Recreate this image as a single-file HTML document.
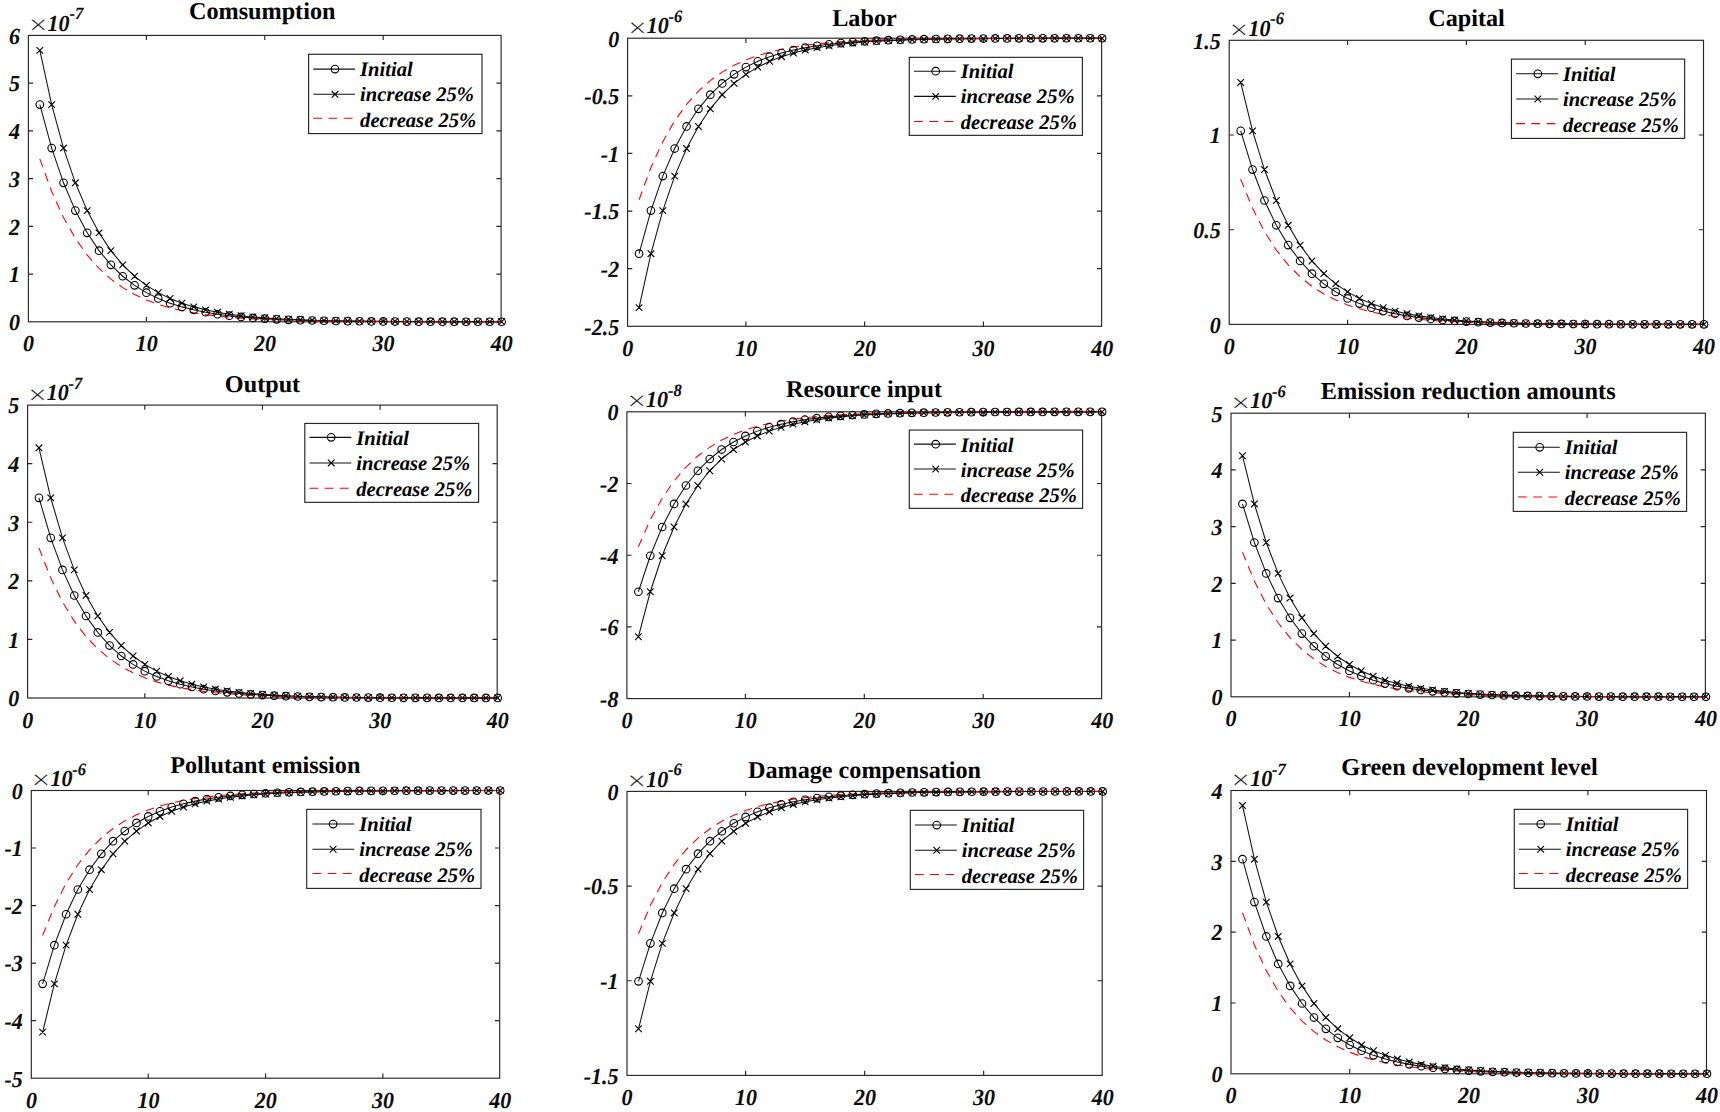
<!DOCTYPE html>
<html><head><meta charset="utf-8"><title>Impulse responses</title>
<style>html,body{margin:0;padding:0;background:#fff}svg{display:block}</style></head><body>
<svg width="1720" height="1112" viewBox="0 0 1720 1112" text-rendering="geometricPrecision">
<rect width="1720" height="1112" fill="#fff"/>
<g>
<rect x="28.4" y="35.4" width="472.7" height="286.4" fill="none" stroke="#262626" stroke-width="1.15"/>
<path d="M146.4 321.8v-4.7M146.4 35.4v4.7M264.8 321.8v-4.7M264.8 35.4v4.7M383.2 321.8v-4.7M383.2 35.4v4.7M28.4 274.07h4.7M501.1 274.07h-4.7M28.4 226.33h4.7M501.1 226.33h-4.7M28.4 178.6h4.7M501.1 178.6h-4.7M28.4 130.87h4.7M501.1 130.87h-4.7M28.4 83.13h4.7M501.1 83.13h-4.7" stroke="#262626" stroke-width="1.15" fill="none"/>
<g font-family='"Liberation Serif", serif' font-weight="bold" font-style="italic" font-size="22" fill="#0d0d0d" stroke="#0d0d0d" stroke-width="0.1">
<text transform="translate(28.5 351.4) scale(1 1.04)" text-anchor="middle">0</text>
<text transform="translate(146.8 351.4) scale(1 1.04)" text-anchor="middle">10</text>
<text transform="translate(265.1 351.4) scale(1 1.04)" text-anchor="middle">20</text>
<text transform="translate(383.4 351.4) scale(1 1.04)" text-anchor="middle">30</text>
<text transform="translate(501.7 351.4) scale(1 1.04)" text-anchor="middle">40</text>
<text transform="translate(19.95 330.1) scale(1 1.04)" text-anchor="end">0</text>
<text transform="translate(19.95 282.37) scale(1 1.04)" text-anchor="end">1</text>
<text transform="translate(19.95 234.63) scale(1 1.04)" text-anchor="end">2</text>
<text transform="translate(19.95 186.9) scale(1 1.04)" text-anchor="end">3</text>
<text transform="translate(19.95 139.17) scale(1 1.04)" text-anchor="end">4</text>
<text transform="translate(19.95 91.43) scale(1 1.04)" text-anchor="end">5</text>
<text transform="translate(19.95 43.7) scale(1 1.04)" text-anchor="end">6</text>
<text transform="translate(28.95 33.8) scale(1.19 1)" font-weight="normal" font-style="normal" font-size="27.5" stroke="#fff" stroke-width="0.3">×</text>
<text transform="translate(47.6 30.6) scale(1 1.04)">10<tspan font-size="16.6" dy="-10.7" dx="-0.2">-7</tspan></text>
</g>
<text x="262.2" y="19.2" text-anchor="middle" font-family='"Liberation Serif", serif' font-weight="bold" font-size="24.2" fill="#000">Comsumption</text>
<polyline points="39.84,104.61 51.68,148.05 63.52,182.8 75.36,210.6 87.2,232.84 99.04,250.63 110.88,264.87 122.72,276.25 134.56,285.36 146.4,292.65 158.24,298.48 170.08,303.14 181.92,306.88 193.76,309.86 205.6,312.25 217.44,314.16 229.28,315.69 241.12,316.91 252.96,317.89 264.8,318.67 276.64,319.3 288.48,319.8 300.32,320.2 312.16,320.52 324,320.77 335.84,320.98 347.68,321.14 359.52,321.27 371.36,321.38 383.2,321.46 395.04,321.53 406.88,321.58 418.72,321.63 430.56,321.66 442.4,321.69 454.24,321.71 466.08,321.73 477.92,321.74 489.76,321.75 501.6,321.76" fill="none" stroke="#111" stroke-width="1.05"/>
<polyline points="39.84,50.32 51.68,104.61 63.52,148.05 75.36,182.8 87.2,210.6 99.04,232.84 110.88,250.63 122.72,264.87 134.56,276.25 146.4,285.36 158.24,292.65 170.08,298.48 181.92,303.14 193.76,306.88 205.6,309.86 217.44,312.25 229.28,314.16 241.12,315.69 252.96,316.91 264.8,317.89 276.64,318.67 288.48,319.3 300.32,319.8 312.16,320.2 324,320.52 335.84,320.77 347.68,320.98 359.52,321.14 371.36,321.27 383.2,321.38 395.04,321.46 406.88,321.53 418.72,321.58 430.56,321.63 442.4,321.66 454.24,321.69 466.08,321.71 477.92,321.73 489.76,321.74 501.6,321.75" fill="none" stroke="#111" stroke-width="1.05"/>
<polyline points="39.84,158.91 51.68,191.49 63.52,217.55 75.36,238.4 87.2,255.08 99.04,268.42 110.88,279.1 122.72,287.64 134.56,294.47 146.4,299.94 158.24,304.31 170.08,307.81 181.92,310.61 193.76,312.85 205.6,314.64 217.44,316.07 229.28,317.22 241.12,318.13 252.96,318.87 264.8,319.45 276.64,319.92 288.48,320.3 300.32,320.6 312.16,320.84 324,321.03 335.84,321.18 347.68,321.31 359.52,321.41 371.36,321.48 383.2,321.55 395.04,321.6 406.88,321.64 418.72,321.67 430.56,321.7 442.4,321.72 454.24,321.73 466.08,321.75 477.92,321.76 489.76,321.77 501.6,321.77" fill="none" stroke="#ff0000" stroke-width="1.1" stroke-dasharray="8.8 6.4"/>
<g fill="none" stroke="#000" stroke-width="1.1">
<circle cx="39.84" cy="104.61" r="3.8"/>
<circle cx="51.68" cy="148.05" r="3.8"/>
<circle cx="63.52" cy="182.8" r="3.8"/>
<circle cx="75.36" cy="210.6" r="3.8"/>
<circle cx="87.2" cy="232.84" r="3.8"/>
<circle cx="99.04" cy="250.63" r="3.8"/>
<circle cx="110.88" cy="264.87" r="3.8"/>
<circle cx="122.72" cy="276.25" r="3.8"/>
<circle cx="134.56" cy="285.36" r="3.8"/>
<circle cx="146.4" cy="292.65" r="3.8"/>
<circle cx="158.24" cy="298.48" r="3.8"/>
<circle cx="170.08" cy="303.14" r="3.8"/>
<circle cx="181.92" cy="306.88" r="3.8"/>
<circle cx="193.76" cy="309.86" r="3.8"/>
<circle cx="205.6" cy="312.25" r="3.8"/>
<circle cx="217.44" cy="314.16" r="3.8"/>
<circle cx="229.28" cy="315.69" r="3.8"/>
<circle cx="241.12" cy="316.91" r="3.8"/>
<circle cx="252.96" cy="317.89" r="3.8"/>
<circle cx="264.8" cy="318.67" r="3.8"/>
<circle cx="276.64" cy="319.3" r="3.8"/>
<circle cx="288.48" cy="319.8" r="3.8"/>
<circle cx="300.32" cy="320.2" r="3.8"/>
<circle cx="312.16" cy="320.52" r="3.8"/>
<circle cx="324" cy="320.77" r="3.8"/>
<circle cx="335.84" cy="320.98" r="3.8"/>
<circle cx="347.68" cy="321.14" r="3.8"/>
<circle cx="359.52" cy="321.27" r="3.8"/>
<circle cx="371.36" cy="321.38" r="3.8"/>
<circle cx="383.2" cy="321.46" r="3.8"/>
<circle cx="395.04" cy="321.53" r="3.8"/>
<circle cx="406.88" cy="321.58" r="3.8"/>
<circle cx="418.72" cy="321.63" r="3.8"/>
<circle cx="430.56" cy="321.66" r="3.8"/>
<circle cx="442.4" cy="321.69" r="3.8"/>
<circle cx="454.24" cy="321.71" r="3.8"/>
<circle cx="466.08" cy="321.73" r="3.8"/>
<circle cx="477.92" cy="321.74" r="3.8"/>
<circle cx="489.76" cy="321.75" r="3.8"/>
<circle cx="501.6" cy="321.76" r="3.8"/>
<path d="M36.54 47.02l6.6 6.6M36.54 53.62l6.6 -6.6M48.38 101.31l6.6 6.6M48.38 107.91l6.6 -6.6M60.22 144.75l6.6 6.6M60.22 151.35l6.6 -6.6M72.06 179.5l6.6 6.6M72.06 186.1l6.6 -6.6M83.9 207.3l6.6 6.6M83.9 213.9l6.6 -6.6M95.74 229.54l6.6 6.6M95.74 236.14l6.6 -6.6M107.58 247.33l6.6 6.6M107.58 253.93l6.6 -6.6M119.42 261.57l6.6 6.6M119.42 268.17l6.6 -6.6M131.26 272.95l6.6 6.6M131.26 279.55l6.6 -6.6M143.1 282.06l6.6 6.6M143.1 288.66l6.6 -6.6M154.94 289.35l6.6 6.6M154.94 295.95l6.6 -6.6M166.78 295.18l6.6 6.6M166.78 301.78l6.6 -6.6M178.62 299.84l6.6 6.6M178.62 306.44l6.6 -6.6M190.46 303.58l6.6 6.6M190.46 310.18l6.6 -6.6M202.3 306.56l6.6 6.6M202.3 313.16l6.6 -6.6M214.14 308.95l6.6 6.6M214.14 315.55l6.6 -6.6M225.98 310.86l6.6 6.6M225.98 317.46l6.6 -6.6M237.82 312.39l6.6 6.6M237.82 318.99l6.6 -6.6M249.66 313.61l6.6 6.6M249.66 320.21l6.6 -6.6M261.5 314.59l6.6 6.6M261.5 321.19l6.6 -6.6M273.34 315.37l6.6 6.6M273.34 321.97l6.6 -6.6M285.18 316l6.6 6.6M285.18 322.6l6.6 -6.6M297.02 316.5l6.6 6.6M297.02 323.1l6.6 -6.6M308.86 316.9l6.6 6.6M308.86 323.5l6.6 -6.6M320.7 317.22l6.6 6.6M320.7 323.82l6.6 -6.6M332.54 317.47l6.6 6.6M332.54 324.07l6.6 -6.6M344.38 317.68l6.6 6.6M344.38 324.28l6.6 -6.6M356.22 317.84l6.6 6.6M356.22 324.44l6.6 -6.6M368.06 317.97l6.6 6.6M368.06 324.57l6.6 -6.6M379.9 318.08l6.6 6.6M379.9 324.68l6.6 -6.6M391.74 318.16l6.6 6.6M391.74 324.76l6.6 -6.6M403.58 318.23l6.6 6.6M403.58 324.83l6.6 -6.6M415.42 318.28l6.6 6.6M415.42 324.88l6.6 -6.6M427.26 318.33l6.6 6.6M427.26 324.93l6.6 -6.6M439.1 318.36l6.6 6.6M439.1 324.96l6.6 -6.6M450.94 318.39l6.6 6.6M450.94 324.99l6.6 -6.6M462.78 318.41l6.6 6.6M462.78 325.01l6.6 -6.6M474.62 318.43l6.6 6.6M474.62 325.03l6.6 -6.6M486.46 318.44l6.6 6.6M486.46 325.04l6.6 -6.6M498.3 318.45l6.6 6.6M498.3 325.05l6.6 -6.6"/>
</g>
<rect x="308.6" y="54.3" width="173.4" height="79.3" fill="#fff" stroke="#262626" stroke-width="1.15"/>
<path d="M313.3 69.1H355.1M313.3 94.3H355.1" stroke="#111" stroke-width="1.05"/>
<path d="M313.3 118.3H355.1" stroke="#ff0000" stroke-width="1.1" stroke-dasharray="8.8 6.4"/>
<circle cx="335" cy="69.1" r="3.8" fill="none" stroke="#000" stroke-width="1.1"/>
<path d="M331.7 91l6.6 6.6M331.7 97.6l6.6 -6.6" fill="none" stroke="#000" stroke-width="1.1"/>
<g font-family='"Liberation Serif", serif' font-weight="bold" font-style="italic" font-size="20.6" fill="#000">
<text x="360.1" y="76">Initial</text>
<text x="360.1" y="101.4">increase 25%</text>
<text x="360.1" y="126.7">decrease 25%</text>
</g>
</g>
<g>
<rect x="627.6" y="38.2" width="474" height="288.1" fill="none" stroke="#262626" stroke-width="1.15"/>
<path d="M745.92 326.3v-4.7M745.92 38.2v4.7M864.65 326.3v-4.7M864.65 38.2v4.7M983.38 326.3v-4.7M983.38 38.2v4.7M627.6 95.82h4.7M1101.6 95.82h-4.7M627.6 153.44h4.7M1101.6 153.44h-4.7M627.6 211.06h4.7M1101.6 211.06h-4.7M627.6 268.68h4.7M1101.6 268.68h-4.7" stroke="#262626" stroke-width="1.15" fill="none"/>
<g font-family='"Liberation Serif", serif' font-weight="bold" font-style="italic" font-size="22" fill="#0d0d0d" stroke="#0d0d0d" stroke-width="0.1">
<text transform="translate(627.7 355.9) scale(1 1.04)" text-anchor="middle">0</text>
<text transform="translate(746.33 355.9) scale(1 1.04)" text-anchor="middle">10</text>
<text transform="translate(864.95 355.9) scale(1 1.04)" text-anchor="middle">20</text>
<text transform="translate(983.57 355.9) scale(1 1.04)" text-anchor="middle">30</text>
<text transform="translate(1102.2 355.9) scale(1 1.04)" text-anchor="middle">40</text>
<text transform="translate(619.15 46.5) scale(1 1.04)" text-anchor="end">0</text>
<text transform="translate(619.15 104.12) scale(1 1.04)" text-anchor="end">-0.5</text>
<text transform="translate(619.15 161.74) scale(1 1.04)" text-anchor="end">-1</text>
<text transform="translate(619.15 219.36) scale(1 1.04)" text-anchor="end">-1.5</text>
<text transform="translate(619.15 276.98) scale(1 1.04)" text-anchor="end">-2</text>
<text transform="translate(619.15 334.6) scale(1 1.04)" text-anchor="end">-2.5</text>
<text transform="translate(628.15 36.6) scale(1.19 1)" font-weight="normal" font-style="normal" font-size="27.5" stroke="#fff" stroke-width="0.3">×</text>
<text transform="translate(646.8 33.4) scale(1 1.04)">10<tspan font-size="16.6" dy="-10.7" dx="-0.2">-6</tspan></text>
</g>
<text x="864.5" y="25.5" text-anchor="middle" font-family='"Liberation Serif", serif' font-weight="bold" font-size="24.2" fill="#000">Labor</text>
<polyline points="639.07,253.7 650.95,210.6 662.82,176.12 674.69,148.54 686.56,126.47 698.44,108.81 710.31,94.69 722.18,83.39 734.05,74.35 745.92,67.12 757.8,61.34 769.67,56.71 781.54,53.01 793.41,50.05 805.29,47.68 817.16,45.78 829.03,44.27 840.9,43.05 852.78,42.08 864.65,41.31 876.52,40.68 888.39,40.19 900.27,39.79 912.14,39.47 924.01,39.22 935.88,39.01 947.76,38.85 959.63,38.72 971.5,38.62 983.38,38.53 995.25,38.47 1007.12,38.41 1018.99,38.37 1030.86,38.34 1042.74,38.31 1054.61,38.29 1066.48,38.27 1078.36,38.26 1090.23,38.24 1102.1,38.24" fill="none" stroke="#111" stroke-width="1.05"/>
<polyline points="639.07,307.57 650.95,253.7 662.82,210.6 674.69,176.12 686.56,148.54 698.44,126.47 710.31,108.81 722.18,94.69 734.05,83.39 745.92,74.35 757.8,67.12 769.67,61.34 781.54,56.71 793.41,53.01 805.29,50.05 817.16,47.68 829.03,45.78 840.9,44.27 852.78,43.05 864.65,42.08 876.52,41.31 888.39,40.68 900.27,40.19 912.14,39.79 924.01,39.47 935.88,39.22 947.76,39.01 959.63,38.85 971.5,38.72 983.38,38.62 995.25,38.53 1007.12,38.47 1018.99,38.41 1030.86,38.37 1042.74,38.34 1054.61,38.31 1066.48,38.29 1078.36,38.27 1090.23,38.26 1102.1,38.24" fill="none" stroke="#111" stroke-width="1.05"/>
<polyline points="639.07,199.82 650.95,167.5 662.82,141.64 674.69,120.95 686.56,104.4 698.44,91.16 710.31,80.57 722.18,72.1 734.05,65.32 745.92,59.89 757.8,55.55 769.67,52.08 781.54,49.31 793.41,47.09 805.29,45.31 817.16,43.89 829.03,42.75 840.9,41.84 852.78,41.11 864.65,40.53 876.52,40.06 888.39,39.69 900.27,39.39 912.14,39.15 924.01,38.96 935.88,38.81 947.76,38.69 959.63,38.59 971.5,38.51 983.38,38.45 995.25,38.4 1007.12,38.36 1018.99,38.33 1030.86,38.3 1042.74,38.28 1054.61,38.27 1066.48,38.25 1078.36,38.24 1090.23,38.23 1102.1,38.23" fill="none" stroke="#ff0000" stroke-width="1.1" stroke-dasharray="8.8 6.4"/>
<g fill="none" stroke="#000" stroke-width="1.1">
<circle cx="639.07" cy="253.7" r="3.8"/>
<circle cx="650.95" cy="210.6" r="3.8"/>
<circle cx="662.82" cy="176.12" r="3.8"/>
<circle cx="674.69" cy="148.54" r="3.8"/>
<circle cx="686.56" cy="126.47" r="3.8"/>
<circle cx="698.44" cy="108.81" r="3.8"/>
<circle cx="710.31" cy="94.69" r="3.8"/>
<circle cx="722.18" cy="83.39" r="3.8"/>
<circle cx="734.05" cy="74.35" r="3.8"/>
<circle cx="745.92" cy="67.12" r="3.8"/>
<circle cx="757.8" cy="61.34" r="3.8"/>
<circle cx="769.67" cy="56.71" r="3.8"/>
<circle cx="781.54" cy="53.01" r="3.8"/>
<circle cx="793.41" cy="50.05" r="3.8"/>
<circle cx="805.29" cy="47.68" r="3.8"/>
<circle cx="817.16" cy="45.78" r="3.8"/>
<circle cx="829.03" cy="44.27" r="3.8"/>
<circle cx="840.9" cy="43.05" r="3.8"/>
<circle cx="852.78" cy="42.08" r="3.8"/>
<circle cx="864.65" cy="41.31" r="3.8"/>
<circle cx="876.52" cy="40.68" r="3.8"/>
<circle cx="888.39" cy="40.19" r="3.8"/>
<circle cx="900.27" cy="39.79" r="3.8"/>
<circle cx="912.14" cy="39.47" r="3.8"/>
<circle cx="924.01" cy="39.22" r="3.8"/>
<circle cx="935.88" cy="39.01" r="3.8"/>
<circle cx="947.76" cy="38.85" r="3.8"/>
<circle cx="959.63" cy="38.72" r="3.8"/>
<circle cx="971.5" cy="38.62" r="3.8"/>
<circle cx="983.38" cy="38.53" r="3.8"/>
<circle cx="995.25" cy="38.47" r="3.8"/>
<circle cx="1007.12" cy="38.41" r="3.8"/>
<circle cx="1018.99" cy="38.37" r="3.8"/>
<circle cx="1030.86" cy="38.34" r="3.8"/>
<circle cx="1042.74" cy="38.31" r="3.8"/>
<circle cx="1054.61" cy="38.29" r="3.8"/>
<circle cx="1066.48" cy="38.27" r="3.8"/>
<circle cx="1078.36" cy="38.26" r="3.8"/>
<circle cx="1090.23" cy="38.24" r="3.8"/>
<circle cx="1102.1" cy="38.24" r="3.8"/>
<path d="M635.77 304.27l6.6 6.6M635.77 310.87l6.6 -6.6M647.65 250.4l6.6 6.6M647.65 257l6.6 -6.6M659.52 207.3l6.6 6.6M659.52 213.9l6.6 -6.6M671.39 172.82l6.6 6.6M671.39 179.42l6.6 -6.6M683.26 145.24l6.6 6.6M683.26 151.84l6.6 -6.6M695.14 123.17l6.6 6.6M695.14 129.77l6.6 -6.6M707.01 105.51l6.6 6.6M707.01 112.11l6.6 -6.6M718.88 91.39l6.6 6.6M718.88 97.99l6.6 -6.6M730.75 80.09l6.6 6.6M730.75 86.69l6.6 -6.6M742.62 71.05l6.6 6.6M742.62 77.65l6.6 -6.6M754.5 63.82l6.6 6.6M754.5 70.42l6.6 -6.6M766.37 58.04l6.6 6.6M766.37 64.64l6.6 -6.6M778.24 53.41l6.6 6.6M778.24 60.01l6.6 -6.6M790.12 49.71l6.6 6.6M790.12 56.31l6.6 -6.6M801.99 46.75l6.6 6.6M801.99 53.35l6.6 -6.6M813.86 44.38l6.6 6.6M813.86 50.98l6.6 -6.6M825.73 42.48l6.6 6.6M825.73 49.08l6.6 -6.6M837.61 40.97l6.6 6.6M837.61 47.57l6.6 -6.6M849.48 39.75l6.6 6.6M849.48 46.35l6.6 -6.6M861.35 38.78l6.6 6.6M861.35 45.38l6.6 -6.6M873.22 38.01l6.6 6.6M873.22 44.61l6.6 -6.6M885.1 37.38l6.6 6.6M885.1 43.98l6.6 -6.6M896.97 36.89l6.6 6.6M896.97 43.49l6.6 -6.6M908.84 36.49l6.6 6.6M908.84 43.09l6.6 -6.6M920.71 36.17l6.6 6.6M920.71 42.77l6.6 -6.6M932.59 35.92l6.6 6.6M932.59 42.52l6.6 -6.6M944.46 35.71l6.6 6.6M944.46 42.31l6.6 -6.6M956.33 35.55l6.6 6.6M956.33 42.15l6.6 -6.6M968.2 35.42l6.6 6.6M968.2 42.02l6.6 -6.6M980.08 35.32l6.6 6.6M980.08 41.92l6.6 -6.6M991.95 35.23l6.6 6.6M991.95 41.83l6.6 -6.6M1003.82 35.17l6.6 6.6M1003.82 41.77l6.6 -6.6M1015.69 35.11l6.6 6.6M1015.69 41.71l6.6 -6.6M1027.56 35.07l6.6 6.6M1027.56 41.67l6.6 -6.6M1039.44 35.04l6.6 6.6M1039.44 41.64l6.6 -6.6M1051.31 35.01l6.6 6.6M1051.31 41.61l6.6 -6.6M1063.18 34.99l6.6 6.6M1063.18 41.59l6.6 -6.6M1075.06 34.97l6.6 6.6M1075.06 41.57l6.6 -6.6M1086.93 34.96l6.6 6.6M1086.93 41.56l6.6 -6.6M1098.8 34.94l6.6 6.6M1098.8 41.54l6.6 -6.6"/>
</g>
<rect x="909.3" y="57.35" width="173.1" height="78" fill="#fff" stroke="#262626" stroke-width="1.15"/>
<path d="M914 71.15H955.8M914 96.35H955.8" stroke="#111" stroke-width="1.05"/>
<path d="M914 121.55H955.8" stroke="#ff0000" stroke-width="1.1" stroke-dasharray="8.8 6.4"/>
<circle cx="935.7" cy="71.15" r="3.8" fill="none" stroke="#000" stroke-width="1.1"/>
<path d="M932.4 93.05l6.6 6.6M932.4 99.65l6.6 -6.6" fill="none" stroke="#000" stroke-width="1.1"/>
<g font-family='"Liberation Serif", serif' font-weight="bold" font-style="italic" font-size="20.6" fill="#000">
<text x="960.8" y="78.45">Initial</text>
<text x="960.8" y="103.35">increase 25%</text>
<text x="960.8" y="128.95">decrease 25%</text>
</g>
</g>
<g>
<rect x="1229.2" y="40.3" width="474.3" height="284.1" fill="none" stroke="#262626" stroke-width="1.15"/>
<path d="M1347.6 324.4v-4.7M1347.6 40.3v4.7M1466.4 324.4v-4.7M1466.4 40.3v4.7M1585.2 324.4v-4.7M1585.2 40.3v4.7M1229.2 229.7h4.7M1703.5 229.7h-4.7M1229.2 135h4.7M1703.5 135h-4.7" stroke="#262626" stroke-width="1.15" fill="none"/>
<g font-family='"Liberation Serif", serif' font-weight="bold" font-style="italic" font-size="22" fill="#0d0d0d" stroke="#0d0d0d" stroke-width="0.1">
<text transform="translate(1229.3 354) scale(1 1.04)" text-anchor="middle">0</text>
<text transform="translate(1348 354) scale(1 1.04)" text-anchor="middle">10</text>
<text transform="translate(1466.7 354) scale(1 1.04)" text-anchor="middle">20</text>
<text transform="translate(1585.4 354) scale(1 1.04)" text-anchor="middle">30</text>
<text transform="translate(1704.1 354) scale(1 1.04)" text-anchor="middle">40</text>
<text transform="translate(1220.75 332.7) scale(1 1.04)" text-anchor="end">0</text>
<text transform="translate(1220.75 238) scale(1 1.04)" text-anchor="end">0.5</text>
<text transform="translate(1220.75 143.3) scale(1 1.04)" text-anchor="end">1</text>
<text transform="translate(1220.75 48.6) scale(1 1.04)" text-anchor="end">1.5</text>
<text transform="translate(1229.75 38.7) scale(1.19 1)" font-weight="normal" font-style="normal" font-size="27.5" stroke="#fff" stroke-width="0.3">×</text>
<text transform="translate(1248.4 35.5) scale(1 1.04)">10<tspan font-size="16.6" dy="-10.7" dx="-0.2">-6</tspan></text>
</g>
<text x="1466.5" y="25.5" text-anchor="middle" font-family='"Liberation Serif", serif' font-weight="bold" font-size="24.2" fill="#000">Capital</text>
<polyline points="1240.68,130.83 1252.56,169.55 1264.44,200.52 1276.32,225.29 1288.2,245.12 1300.08,260.97 1311.96,273.66 1323.84,283.81 1335.72,291.92 1347.6,298.42 1359.48,303.62 1371.36,307.77 1383.24,311.1 1395.12,313.76 1407,315.89 1418.88,317.59 1430.76,318.95 1442.64,320.04 1454.52,320.91 1466.4,321.61 1478.28,322.17 1490.16,322.61 1502.04,322.97 1513.92,323.26 1525.8,323.49 1537.68,323.67 1549.56,323.81 1561.44,323.93 1573.32,324.03 1585.2,324.1 1597.08,324.16 1608.96,324.21 1620.84,324.25 1632.72,324.28 1644.6,324.3 1656.48,324.32 1668.36,324.34 1680.24,324.35 1692.12,324.36 1704,324.37" fill="none" stroke="#111" stroke-width="1.05"/>
<polyline points="1240.68,82.44 1252.56,130.83 1264.44,169.55 1276.32,200.52 1288.2,225.29 1300.08,245.12 1311.96,260.97 1323.84,273.66 1335.72,283.81 1347.6,291.92 1359.48,298.42 1371.36,303.62 1383.24,307.77 1395.12,311.1 1407,313.76 1418.88,315.89 1430.76,317.59 1442.64,318.95 1454.52,320.04 1466.4,320.91 1478.28,321.61 1490.16,322.17 1502.04,322.61 1513.92,322.97 1525.8,323.26 1537.68,323.49 1549.56,323.67 1561.44,323.81 1573.32,323.93 1585.2,324.03 1597.08,324.1 1608.96,324.16 1620.84,324.21 1632.72,324.25 1644.6,324.28 1656.48,324.3 1668.36,324.32 1680.24,324.34 1692.12,324.35 1704,324.36" fill="none" stroke="#111" stroke-width="1.05"/>
<polyline points="1240.68,179.22 1252.56,208.26 1264.44,231.49 1276.32,250.07 1288.2,264.94 1300.08,276.83 1311.96,286.34 1323.84,293.95 1335.72,300.04 1347.6,304.91 1359.48,308.81 1371.36,311.93 1383.24,314.42 1395.12,316.42 1407,318.02 1418.88,319.29 1430.76,320.31 1442.64,321.13 1454.52,321.78 1466.4,322.31 1478.28,322.73 1490.16,323.06 1502.04,323.33 1513.92,323.54 1525.8,323.71 1537.68,323.85 1549.56,323.96 1561.44,324.05 1573.32,324.12 1585.2,324.18 1597.08,324.22 1608.96,324.26 1620.84,324.28 1632.72,324.31 1644.6,324.33 1656.48,324.34 1668.36,324.35 1680.24,324.36 1692.12,324.37 1704,324.38" fill="none" stroke="#ff0000" stroke-width="1.1" stroke-dasharray="8.8 6.4"/>
<g fill="none" stroke="#000" stroke-width="1.1">
<circle cx="1240.68" cy="130.83" r="3.8"/>
<circle cx="1252.56" cy="169.55" r="3.8"/>
<circle cx="1264.44" cy="200.52" r="3.8"/>
<circle cx="1276.32" cy="225.29" r="3.8"/>
<circle cx="1288.2" cy="245.12" r="3.8"/>
<circle cx="1300.08" cy="260.97" r="3.8"/>
<circle cx="1311.96" cy="273.66" r="3.8"/>
<circle cx="1323.84" cy="283.81" r="3.8"/>
<circle cx="1335.72" cy="291.92" r="3.8"/>
<circle cx="1347.6" cy="298.42" r="3.8"/>
<circle cx="1359.48" cy="303.62" r="3.8"/>
<circle cx="1371.36" cy="307.77" r="3.8"/>
<circle cx="1383.24" cy="311.1" r="3.8"/>
<circle cx="1395.12" cy="313.76" r="3.8"/>
<circle cx="1407" cy="315.89" r="3.8"/>
<circle cx="1418.88" cy="317.59" r="3.8"/>
<circle cx="1430.76" cy="318.95" r="3.8"/>
<circle cx="1442.64" cy="320.04" r="3.8"/>
<circle cx="1454.52" cy="320.91" r="3.8"/>
<circle cx="1466.4" cy="321.61" r="3.8"/>
<circle cx="1478.28" cy="322.17" r="3.8"/>
<circle cx="1490.16" cy="322.61" r="3.8"/>
<circle cx="1502.04" cy="322.97" r="3.8"/>
<circle cx="1513.92" cy="323.26" r="3.8"/>
<circle cx="1525.8" cy="323.49" r="3.8"/>
<circle cx="1537.68" cy="323.67" r="3.8"/>
<circle cx="1549.56" cy="323.81" r="3.8"/>
<circle cx="1561.44" cy="323.93" r="3.8"/>
<circle cx="1573.32" cy="324.03" r="3.8"/>
<circle cx="1585.2" cy="324.1" r="3.8"/>
<circle cx="1597.08" cy="324.16" r="3.8"/>
<circle cx="1608.96" cy="324.21" r="3.8"/>
<circle cx="1620.84" cy="324.25" r="3.8"/>
<circle cx="1632.72" cy="324.28" r="3.8"/>
<circle cx="1644.6" cy="324.3" r="3.8"/>
<circle cx="1656.48" cy="324.32" r="3.8"/>
<circle cx="1668.36" cy="324.34" r="3.8"/>
<circle cx="1680.24" cy="324.35" r="3.8"/>
<circle cx="1692.12" cy="324.36" r="3.8"/>
<circle cx="1704" cy="324.37" r="3.8"/>
<path d="M1237.38 79.14l6.6 6.6M1237.38 85.74l6.6 -6.6M1249.26 127.53l6.6 6.6M1249.26 134.13l6.6 -6.6M1261.14 166.25l6.6 6.6M1261.14 172.85l6.6 -6.6M1273.02 197.22l6.6 6.6M1273.02 203.82l6.6 -6.6M1284.9 221.99l6.6 6.6M1284.9 228.59l6.6 -6.6M1296.78 241.82l6.6 6.6M1296.78 248.42l6.6 -6.6M1308.66 257.67l6.6 6.6M1308.66 264.27l6.6 -6.6M1320.54 270.36l6.6 6.6M1320.54 276.96l6.6 -6.6M1332.42 280.51l6.6 6.6M1332.42 287.11l6.6 -6.6M1344.3 288.62l6.6 6.6M1344.3 295.22l6.6 -6.6M1356.18 295.12l6.6 6.6M1356.18 301.72l6.6 -6.6M1368.06 300.32l6.6 6.6M1368.06 306.92l6.6 -6.6M1379.94 304.47l6.6 6.6M1379.94 311.07l6.6 -6.6M1391.82 307.8l6.6 6.6M1391.82 314.4l6.6 -6.6M1403.7 310.46l6.6 6.6M1403.7 317.06l6.6 -6.6M1415.58 312.59l6.6 6.6M1415.58 319.19l6.6 -6.6M1427.46 314.29l6.6 6.6M1427.46 320.89l6.6 -6.6M1439.34 315.65l6.6 6.6M1439.34 322.25l6.6 -6.6M1451.22 316.74l6.6 6.6M1451.22 323.34l6.6 -6.6M1463.1 317.61l6.6 6.6M1463.1 324.21l6.6 -6.6M1474.98 318.31l6.6 6.6M1474.98 324.91l6.6 -6.6M1486.86 318.87l6.6 6.6M1486.86 325.47l6.6 -6.6M1498.74 319.31l6.6 6.6M1498.74 325.91l6.6 -6.6M1510.62 319.67l6.6 6.6M1510.62 326.27l6.6 -6.6M1522.5 319.96l6.6 6.6M1522.5 326.56l6.6 -6.6M1534.38 320.19l6.6 6.6M1534.38 326.79l6.6 -6.6M1546.26 320.37l6.6 6.6M1546.26 326.97l6.6 -6.6M1558.14 320.51l6.6 6.6M1558.14 327.11l6.6 -6.6M1570.02 320.63l6.6 6.6M1570.02 327.23l6.6 -6.6M1581.9 320.73l6.6 6.6M1581.9 327.33l6.6 -6.6M1593.78 320.8l6.6 6.6M1593.78 327.4l6.6 -6.6M1605.66 320.86l6.6 6.6M1605.66 327.46l6.6 -6.6M1617.54 320.91l6.6 6.6M1617.54 327.51l6.6 -6.6M1629.42 320.95l6.6 6.6M1629.42 327.55l6.6 -6.6M1641.3 320.98l6.6 6.6M1641.3 327.58l6.6 -6.6M1653.18 321l6.6 6.6M1653.18 327.6l6.6 -6.6M1665.06 321.02l6.6 6.6M1665.06 327.62l6.6 -6.6M1676.94 321.04l6.6 6.6M1676.94 327.64l6.6 -6.6M1688.82 321.05l6.6 6.6M1688.82 327.65l6.6 -6.6M1700.7 321.06l6.6 6.6M1700.7 327.66l6.6 -6.6"/>
</g>
<rect x="1511.45" y="59.1" width="173.2" height="79.3" fill="#fff" stroke="#262626" stroke-width="1.15"/>
<path d="M1516.15 73.8H1557.95M1516.15 99H1557.95" stroke="#111" stroke-width="1.05"/>
<path d="M1516.15 123.6H1557.95" stroke="#ff0000" stroke-width="1.1" stroke-dasharray="8.8 6.4"/>
<circle cx="1537.85" cy="73.8" r="3.8" fill="none" stroke="#000" stroke-width="1.1"/>
<path d="M1534.55 95.7l6.6 6.6M1534.55 102.3l6.6 -6.6" fill="none" stroke="#000" stroke-width="1.1"/>
<g font-family='"Liberation Serif", serif' font-weight="bold" font-style="italic" font-size="20.6" fill="#000">
<text x="1562.95" y="80.7">Initial</text>
<text x="1562.95" y="106">increase 25%</text>
<text x="1562.95" y="131.6">decrease 25%</text>
</g>
</g>
<g>
<rect x="27.6" y="405.1" width="469.6" height="292.9" fill="none" stroke="#262626" stroke-width="1.15"/>
<path d="M144.82 698v-4.7M144.82 405.1v4.7M262.45 698v-4.7M262.45 405.1v4.7M380.07 698v-4.7M380.07 405.1v4.7M27.6 639.42h4.7M497.2 639.42h-4.7M27.6 580.84h4.7M497.2 580.84h-4.7M27.6 522.26h4.7M497.2 522.26h-4.7M27.6 463.68h4.7M497.2 463.68h-4.7" stroke="#262626" stroke-width="1.15" fill="none"/>
<g font-family='"Liberation Serif", serif' font-weight="bold" font-style="italic" font-size="22" fill="#0d0d0d" stroke="#0d0d0d" stroke-width="0.1">
<text transform="translate(27.7 727.6) scale(1 1.04)" text-anchor="middle">0</text>
<text transform="translate(145.23 727.6) scale(1 1.04)" text-anchor="middle">10</text>
<text transform="translate(262.75 727.6) scale(1 1.04)" text-anchor="middle">20</text>
<text transform="translate(380.27 727.6) scale(1 1.04)" text-anchor="middle">30</text>
<text transform="translate(497.8 727.6) scale(1 1.04)" text-anchor="middle">40</text>
<text transform="translate(19.15 706.3) scale(1 1.04)" text-anchor="end">0</text>
<text transform="translate(19.15 647.72) scale(1 1.04)" text-anchor="end">1</text>
<text transform="translate(19.15 589.14) scale(1 1.04)" text-anchor="end">2</text>
<text transform="translate(19.15 530.56) scale(1 1.04)" text-anchor="end">3</text>
<text transform="translate(19.15 471.98) scale(1 1.04)" text-anchor="end">4</text>
<text transform="translate(19.15 413.4) scale(1 1.04)" text-anchor="end">5</text>
<text transform="translate(28.15 403.5) scale(1.19 1)" font-weight="normal" font-style="normal" font-size="27.5" stroke="#fff" stroke-width="0.3">×</text>
<text transform="translate(46.8 400.3) scale(1 1.04)">10<tspan font-size="16.6" dy="-10.7" dx="-0.2">-7</tspan></text>
</g>
<text x="262.5" y="391.5" text-anchor="middle" font-family='"Liberation Serif", serif' font-weight="bold" font-size="24.2" fill="#000">Output</text>
<polyline points="38.96,497.83 50.73,537.87 62.49,569.89 74.25,595.51 86.01,616.01 97.78,632.41 109.54,645.53 121.3,656.02 133.06,664.42 144.82,671.13 156.59,676.51 168.35,680.81 180.11,684.24 191.88,687 203.64,689.2 215.4,690.96 227.16,692.37 238.93,693.49 250.69,694.39 262.45,695.12 274.21,695.69 285.97,696.15 297.74,696.52 309.5,696.82 321.26,697.05 333.02,697.24 344.79,697.4 356.55,697.52 368.31,697.61 380.07,697.69 391.84,697.75 403.6,697.8 415.36,697.84 427.12,697.87 438.89,697.9 450.65,697.92 462.41,697.94 474.18,697.95 485.94,697.96 497.7,697.97" fill="none" stroke="#111" stroke-width="1.05"/>
<polyline points="38.96,447.79 50.73,497.83 62.49,537.87 74.25,569.89 86.01,595.51 97.78,616.01 109.54,632.41 121.3,645.53 133.06,656.02 144.82,664.42 156.59,671.13 168.35,676.51 180.11,680.81 191.88,684.24 203.64,687 215.4,689.2 227.16,690.96 238.93,692.37 250.69,693.49 262.45,694.39 274.21,695.12 285.97,695.69 297.74,696.15 309.5,696.52 321.26,696.82 333.02,697.05 344.79,697.24 356.55,697.4 368.31,697.52 380.07,697.61 391.84,697.69 403.6,697.75 415.36,697.8 427.12,697.84 438.89,697.87 450.65,697.9 462.41,697.92 474.18,697.94 485.94,697.95 497.7,697.96" fill="none" stroke="#111" stroke-width="1.05"/>
<polyline points="38.96,547.87 50.73,577.9 62.49,601.92 74.25,621.14 86.01,636.51 97.78,648.81 109.54,658.65 121.3,666.52 133.06,672.81 144.82,677.85 156.59,681.88 168.35,685.1 180.11,687.68 191.88,689.75 203.64,691.4 215.4,692.72 227.16,693.77 238.93,694.62 250.69,695.3 262.45,695.84 274.21,696.27 285.97,696.62 297.74,696.89 309.5,697.11 321.26,697.29 333.02,697.43 344.79,697.55 356.55,697.64 368.31,697.71 380.07,697.77 391.84,697.81 403.6,697.85 415.36,697.88 427.12,697.9 438.89,697.92 450.65,697.94 462.41,697.95 474.18,697.96 485.94,697.97 497.7,697.98" fill="none" stroke="#ff0000" stroke-width="1.1" stroke-dasharray="8.8 6.4"/>
<g fill="none" stroke="#000" stroke-width="1.1">
<circle cx="38.96" cy="497.83" r="3.8"/>
<circle cx="50.73" cy="537.87" r="3.8"/>
<circle cx="62.49" cy="569.89" r="3.8"/>
<circle cx="74.25" cy="595.51" r="3.8"/>
<circle cx="86.01" cy="616.01" r="3.8"/>
<circle cx="97.78" cy="632.41" r="3.8"/>
<circle cx="109.54" cy="645.53" r="3.8"/>
<circle cx="121.3" cy="656.02" r="3.8"/>
<circle cx="133.06" cy="664.42" r="3.8"/>
<circle cx="144.82" cy="671.13" r="3.8"/>
<circle cx="156.59" cy="676.51" r="3.8"/>
<circle cx="168.35" cy="680.81" r="3.8"/>
<circle cx="180.11" cy="684.24" r="3.8"/>
<circle cx="191.88" cy="687" r="3.8"/>
<circle cx="203.64" cy="689.2" r="3.8"/>
<circle cx="215.4" cy="690.96" r="3.8"/>
<circle cx="227.16" cy="692.37" r="3.8"/>
<circle cx="238.93" cy="693.49" r="3.8"/>
<circle cx="250.69" cy="694.39" r="3.8"/>
<circle cx="262.45" cy="695.12" r="3.8"/>
<circle cx="274.21" cy="695.69" r="3.8"/>
<circle cx="285.97" cy="696.15" r="3.8"/>
<circle cx="297.74" cy="696.52" r="3.8"/>
<circle cx="309.5" cy="696.82" r="3.8"/>
<circle cx="321.26" cy="697.05" r="3.8"/>
<circle cx="333.02" cy="697.24" r="3.8"/>
<circle cx="344.79" cy="697.4" r="3.8"/>
<circle cx="356.55" cy="697.52" r="3.8"/>
<circle cx="368.31" cy="697.61" r="3.8"/>
<circle cx="380.07" cy="697.69" r="3.8"/>
<circle cx="391.84" cy="697.75" r="3.8"/>
<circle cx="403.6" cy="697.8" r="3.8"/>
<circle cx="415.36" cy="697.84" r="3.8"/>
<circle cx="427.12" cy="697.87" r="3.8"/>
<circle cx="438.89" cy="697.9" r="3.8"/>
<circle cx="450.65" cy="697.92" r="3.8"/>
<circle cx="462.41" cy="697.94" r="3.8"/>
<circle cx="474.18" cy="697.95" r="3.8"/>
<circle cx="485.94" cy="697.96" r="3.8"/>
<circle cx="497.7" cy="697.97" r="3.8"/>
<path d="M35.66 444.49l6.6 6.6M35.66 451.09l6.6 -6.6M47.43 494.53l6.6 6.6M47.43 501.13l6.6 -6.6M59.19 534.57l6.6 6.6M59.19 541.17l6.6 -6.6M70.95 566.59l6.6 6.6M70.95 573.19l6.6 -6.6M82.71 592.21l6.6 6.6M82.71 598.81l6.6 -6.6M94.48 612.71l6.6 6.6M94.48 619.31l6.6 -6.6M106.24 629.11l6.6 6.6M106.24 635.71l6.6 -6.6M118 642.23l6.6 6.6M118 648.83l6.6 -6.6M129.76 652.72l6.6 6.6M129.76 659.32l6.6 -6.6M141.52 661.12l6.6 6.6M141.52 667.72l6.6 -6.6M153.29 667.83l6.6 6.6M153.29 674.43l6.6 -6.6M165.05 673.21l6.6 6.6M165.05 679.81l6.6 -6.6M176.81 677.51l6.6 6.6M176.81 684.11l6.6 -6.6M188.57 680.94l6.6 6.6M188.57 687.54l6.6 -6.6M200.34 683.7l6.6 6.6M200.34 690.3l6.6 -6.6M212.1 685.9l6.6 6.6M212.1 692.5l6.6 -6.6M223.86 687.66l6.6 6.6M223.86 694.26l6.6 -6.6M235.62 689.07l6.6 6.6M235.62 695.67l6.6 -6.6M247.39 690.19l6.6 6.6M247.39 696.79l6.6 -6.6M259.15 691.09l6.6 6.6M259.15 697.69l6.6 -6.6M270.91 691.82l6.6 6.6M270.91 698.42l6.6 -6.6M282.67 692.39l6.6 6.6M282.67 698.99l6.6 -6.6M294.44 692.85l6.6 6.6M294.44 699.45l6.6 -6.6M306.2 693.22l6.6 6.6M306.2 699.82l6.6 -6.6M317.96 693.52l6.6 6.6M317.96 700.12l6.6 -6.6M329.72 693.75l6.6 6.6M329.72 700.35l6.6 -6.6M341.49 693.94l6.6 6.6M341.49 700.54l6.6 -6.6M353.25 694.1l6.6 6.6M353.25 700.7l6.6 -6.6M365.01 694.22l6.6 6.6M365.01 700.82l6.6 -6.6M376.77 694.31l6.6 6.6M376.77 700.91l6.6 -6.6M388.54 694.39l6.6 6.6M388.54 700.99l6.6 -6.6M400.3 694.45l6.6 6.6M400.3 701.05l6.6 -6.6M412.06 694.5l6.6 6.6M412.06 701.1l6.6 -6.6M423.82 694.54l6.6 6.6M423.82 701.14l6.6 -6.6M435.59 694.57l6.6 6.6M435.59 701.17l6.6 -6.6M447.35 694.6l6.6 6.6M447.35 701.2l6.6 -6.6M459.11 694.62l6.6 6.6M459.11 701.22l6.6 -6.6M470.88 694.64l6.6 6.6M470.88 701.24l6.6 -6.6M482.64 694.65l6.6 6.6M482.64 701.25l6.6 -6.6M494.4 694.66l6.6 6.6M494.4 701.26l6.6 -6.6"/>
</g>
<rect x="304.8" y="423.45" width="173.8" height="78.9" fill="#fff" stroke="#262626" stroke-width="1.15"/>
<path d="M309.5 437.35H351.3M309.5 462.95H351.3" stroke="#111" stroke-width="1.05"/>
<path d="M309.5 488.3H351.3" stroke="#ff0000" stroke-width="1.1" stroke-dasharray="8.8 6.4"/>
<circle cx="331.2" cy="437.35" r="3.8" fill="none" stroke="#000" stroke-width="1.1"/>
<path d="M327.9 459.65l6.6 6.6M327.9 466.25l6.6 -6.6" fill="none" stroke="#000" stroke-width="1.1"/>
<g font-family='"Liberation Serif", serif' font-weight="bold" font-style="italic" font-size="20.6" fill="#000">
<text x="356.3" y="445.45">Initial</text>
<text x="356.3" y="470.15">increase 25%</text>
<text x="356.3" y="495.95">decrease 25%</text>
</g>
</g>
<g>
<rect x="626.9" y="411.8" width="474.7" height="286.8" fill="none" stroke="#262626" stroke-width="1.15"/>
<path d="M745.4 698.6v-4.7M745.4 411.8v4.7M864.3 698.6v-4.7M864.3 411.8v4.7M983.2 698.6v-4.7M983.2 411.8v4.7M626.9 483.5h4.7M1101.6 483.5h-4.7M626.9 555.2h4.7M1101.6 555.2h-4.7M626.9 626.9h4.7M1101.6 626.9h-4.7" stroke="#262626" stroke-width="1.15" fill="none"/>
<g font-family='"Liberation Serif", serif' font-weight="bold" font-style="italic" font-size="22" fill="#0d0d0d" stroke="#0d0d0d" stroke-width="0.1">
<text transform="translate(627 728.2) scale(1 1.04)" text-anchor="middle">0</text>
<text transform="translate(745.8 728.2) scale(1 1.04)" text-anchor="middle">10</text>
<text transform="translate(864.6 728.2) scale(1 1.04)" text-anchor="middle">20</text>
<text transform="translate(983.4 728.2) scale(1 1.04)" text-anchor="middle">30</text>
<text transform="translate(1102.2 728.2) scale(1 1.04)" text-anchor="middle">40</text>
<text transform="translate(618.45 420.1) scale(1 1.04)" text-anchor="end">0</text>
<text transform="translate(618.45 491.8) scale(1 1.04)" text-anchor="end">-2</text>
<text transform="translate(618.45 563.5) scale(1 1.04)" text-anchor="end">-4</text>
<text transform="translate(618.45 635.2) scale(1 1.04)" text-anchor="end">-6</text>
<text transform="translate(618.45 706.9) scale(1 1.04)" text-anchor="end">-8</text>
<text transform="translate(627.45 410.2) scale(1.19 1)" font-weight="normal" font-style="normal" font-size="27.5" stroke="#fff" stroke-width="0.3">×</text>
<text transform="translate(646.1 407) scale(1 1.04)">10<tspan font-size="16.6" dy="-10.7" dx="-0.2">-8</tspan></text>
</g>
<text x="864" y="396.5" text-anchor="middle" font-family='"Liberation Serif", serif' font-weight="bold" font-size="24.2" fill="#000">Resource input</text>
<polyline points="638.39,591.77 650.28,555.77 662.17,526.98 674.06,503.94 685.95,485.51 697.84,470.77 709.73,458.98 721.62,449.54 733.51,441.99 745.4,435.95 757.29,431.12 769.18,427.26 781.07,424.17 792.96,421.69 804.85,419.72 816.74,418.13 828.63,416.87 840.52,415.85 852.41,415.04 864.3,414.39 876.19,413.87 888.08,413.46 899.97,413.13 911.86,412.86 923.75,412.65 935.64,412.48 947.53,412.34 959.42,412.24 971.31,412.15 983.2,412.08 995.09,412.02 1006.98,411.98 1018.87,411.94 1030.76,411.91 1042.65,411.89 1054.54,411.87 1066.43,411.86 1078.32,411.85 1090.21,411.84 1102.1,411.83" fill="none" stroke="#111" stroke-width="1.05"/>
<polyline points="638.39,636.76 650.28,591.77 662.17,555.77 674.06,526.98 685.95,503.94 697.84,485.51 709.73,470.77 721.62,458.98 733.51,449.54 745.4,441.99 757.29,435.95 769.18,431.12 781.07,427.26 792.96,424.17 804.85,421.69 816.74,419.72 828.63,418.13 840.52,416.87 852.41,415.85 864.3,415.04 876.19,414.39 888.08,413.87 899.97,413.46 911.86,413.13 923.75,412.86 935.64,412.65 947.53,412.48 959.42,412.34 971.31,412.24 983.2,412.15 995.09,412.08 1006.98,412.02 1018.87,411.98 1030.76,411.94 1042.65,411.91 1054.54,411.89 1066.43,411.87 1078.32,411.86 1090.21,411.85 1102.1,411.84" fill="none" stroke="#111" stroke-width="1.05"/>
<polyline points="638.39,546.78 650.28,519.78 662.17,498.18 674.06,480.91 685.95,467.09 697.84,456.03 709.73,447.18 721.62,440.11 733.51,434.45 745.4,429.92 757.29,426.29 769.18,423.39 781.07,421.08 792.96,419.22 804.85,417.74 816.74,416.55 828.63,415.6 840.52,414.84 852.41,414.23 864.3,413.75 876.19,413.36 888.08,413.04 899.97,412.8 911.86,412.6 923.75,412.44 935.64,412.31 947.53,412.21 959.42,412.13 971.31,412.06 983.2,412.01 995.09,411.97 1006.98,411.93 1018.87,411.91 1030.76,411.89 1042.65,411.87 1054.54,411.85 1066.43,411.84 1078.32,411.84 1090.21,411.83 1102.1,411.82" fill="none" stroke="#ff0000" stroke-width="1.1" stroke-dasharray="8.8 6.4"/>
<g fill="none" stroke="#000" stroke-width="1.1">
<circle cx="638.39" cy="591.77" r="3.8"/>
<circle cx="650.28" cy="555.77" r="3.8"/>
<circle cx="662.17" cy="526.98" r="3.8"/>
<circle cx="674.06" cy="503.94" r="3.8"/>
<circle cx="685.95" cy="485.51" r="3.8"/>
<circle cx="697.84" cy="470.77" r="3.8"/>
<circle cx="709.73" cy="458.98" r="3.8"/>
<circle cx="721.62" cy="449.54" r="3.8"/>
<circle cx="733.51" cy="441.99" r="3.8"/>
<circle cx="745.4" cy="435.95" r="3.8"/>
<circle cx="757.29" cy="431.12" r="3.8"/>
<circle cx="769.18" cy="427.26" r="3.8"/>
<circle cx="781.07" cy="424.17" r="3.8"/>
<circle cx="792.96" cy="421.69" r="3.8"/>
<circle cx="804.85" cy="419.72" r="3.8"/>
<circle cx="816.74" cy="418.13" r="3.8"/>
<circle cx="828.63" cy="416.87" r="3.8"/>
<circle cx="840.52" cy="415.85" r="3.8"/>
<circle cx="852.41" cy="415.04" r="3.8"/>
<circle cx="864.3" cy="414.39" r="3.8"/>
<circle cx="876.19" cy="413.87" r="3.8"/>
<circle cx="888.08" cy="413.46" r="3.8"/>
<circle cx="899.97" cy="413.13" r="3.8"/>
<circle cx="911.86" cy="412.86" r="3.8"/>
<circle cx="923.75" cy="412.65" r="3.8"/>
<circle cx="935.64" cy="412.48" r="3.8"/>
<circle cx="947.53" cy="412.34" r="3.8"/>
<circle cx="959.42" cy="412.24" r="3.8"/>
<circle cx="971.31" cy="412.15" r="3.8"/>
<circle cx="983.2" cy="412.08" r="3.8"/>
<circle cx="995.09" cy="412.02" r="3.8"/>
<circle cx="1006.98" cy="411.98" r="3.8"/>
<circle cx="1018.87" cy="411.94" r="3.8"/>
<circle cx="1030.76" cy="411.91" r="3.8"/>
<circle cx="1042.65" cy="411.89" r="3.8"/>
<circle cx="1054.54" cy="411.87" r="3.8"/>
<circle cx="1066.43" cy="411.86" r="3.8"/>
<circle cx="1078.32" cy="411.85" r="3.8"/>
<circle cx="1090.21" cy="411.84" r="3.8"/>
<circle cx="1102.1" cy="411.83" r="3.8"/>
<path d="M635.09 633.46l6.6 6.6M635.09 640.06l6.6 -6.6M646.98 588.47l6.6 6.6M646.98 595.07l6.6 -6.6M658.87 552.47l6.6 6.6M658.87 559.07l6.6 -6.6M670.76 523.68l6.6 6.6M670.76 530.28l6.6 -6.6M682.65 500.64l6.6 6.6M682.65 507.24l6.6 -6.6M694.54 482.21l6.6 6.6M694.54 488.81l6.6 -6.6M706.43 467.47l6.6 6.6M706.43 474.07l6.6 -6.6M718.32 455.68l6.6 6.6M718.32 462.28l6.6 -6.6M730.21 446.24l6.6 6.6M730.21 452.84l6.6 -6.6M742.1 438.69l6.6 6.6M742.1 445.29l6.6 -6.6M753.99 432.65l6.6 6.6M753.99 439.25l6.6 -6.6M765.88 427.82l6.6 6.6M765.88 434.42l6.6 -6.6M777.77 423.96l6.6 6.6M777.77 430.56l6.6 -6.6M789.66 420.87l6.6 6.6M789.66 427.47l6.6 -6.6M801.55 418.39l6.6 6.6M801.55 424.99l6.6 -6.6M813.44 416.42l6.6 6.6M813.44 423.02l6.6 -6.6M825.33 414.83l6.6 6.6M825.33 421.43l6.6 -6.6M837.22 413.57l6.6 6.6M837.22 420.17l6.6 -6.6M849.11 412.55l6.6 6.6M849.11 419.15l6.6 -6.6M861 411.74l6.6 6.6M861 418.34l6.6 -6.6M872.89 411.09l6.6 6.6M872.89 417.69l6.6 -6.6M884.78 410.57l6.6 6.6M884.78 417.17l6.6 -6.6M896.67 410.16l6.6 6.6M896.67 416.76l6.6 -6.6M908.56 409.83l6.6 6.6M908.56 416.43l6.6 -6.6M920.45 409.56l6.6 6.6M920.45 416.16l6.6 -6.6M932.34 409.35l6.6 6.6M932.34 415.95l6.6 -6.6M944.23 409.18l6.6 6.6M944.23 415.78l6.6 -6.6M956.12 409.04l6.6 6.6M956.12 415.64l6.6 -6.6M968.01 408.94l6.6 6.6M968.01 415.54l6.6 -6.6M979.9 408.85l6.6 6.6M979.9 415.45l6.6 -6.6M991.79 408.78l6.6 6.6M991.79 415.38l6.6 -6.6M1003.68 408.72l6.6 6.6M1003.68 415.32l6.6 -6.6M1015.57 408.68l6.6 6.6M1015.57 415.28l6.6 -6.6M1027.46 408.64l6.6 6.6M1027.46 415.24l6.6 -6.6M1039.35 408.61l6.6 6.6M1039.35 415.21l6.6 -6.6M1051.24 408.59l6.6 6.6M1051.24 415.19l6.6 -6.6M1063.13 408.57l6.6 6.6M1063.13 415.17l6.6 -6.6M1075.02 408.56l6.6 6.6M1075.02 415.16l6.6 -6.6M1086.91 408.55l6.6 6.6M1086.91 415.15l6.6 -6.6M1098.8 408.54l6.6 6.6M1098.8 415.14l6.6 -6.6"/>
</g>
<rect x="909.3" y="430.07" width="173.3" height="78.3" fill="#fff" stroke="#262626" stroke-width="1.15"/>
<path d="M914 444.14H955.8M914 469.07H955.8" stroke="#111" stroke-width="1.05"/>
<path d="M914 494.27H955.8" stroke="#ff0000" stroke-width="1.1" stroke-dasharray="8.8 6.4"/>
<circle cx="935.7" cy="444.14" r="3.8" fill="none" stroke="#000" stroke-width="1.1"/>
<path d="M932.4 465.77l6.6 6.6M932.4 472.37l6.6 -6.6" fill="none" stroke="#000" stroke-width="1.1"/>
<g font-family='"Liberation Serif", serif' font-weight="bold" font-style="italic" font-size="20.6" fill="#000">
<text x="960.8" y="452.07">Initial</text>
<text x="960.8" y="476.77">increase 25%</text>
<text x="960.8" y="502.37">decrease 25%</text>
</g>
</g>
<g>
<rect x="1231" y="413.2" width="474.4" height="283.6" fill="none" stroke="#262626" stroke-width="1.15"/>
<path d="M1349.42 696.8v-4.7M1349.42 413.2v4.7M1468.25 696.8v-4.7M1468.25 413.2v4.7M1587.08 696.8v-4.7M1587.08 413.2v4.7M1231 640.08h4.7M1705.4 640.08h-4.7M1231 583.36h4.7M1705.4 583.36h-4.7M1231 526.64h4.7M1705.4 526.64h-4.7M1231 469.92h4.7M1705.4 469.92h-4.7" stroke="#262626" stroke-width="1.15" fill="none"/>
<g font-family='"Liberation Serif", serif' font-weight="bold" font-style="italic" font-size="22" fill="#0d0d0d" stroke="#0d0d0d" stroke-width="0.1">
<text transform="translate(1231.1 726.4) scale(1 1.04)" text-anchor="middle">0</text>
<text transform="translate(1349.82 726.4) scale(1 1.04)" text-anchor="middle">10</text>
<text transform="translate(1468.55 726.4) scale(1 1.04)" text-anchor="middle">20</text>
<text transform="translate(1587.28 726.4) scale(1 1.04)" text-anchor="middle">30</text>
<text transform="translate(1706 726.4) scale(1 1.04)" text-anchor="middle">40</text>
<text transform="translate(1222.55 705.1) scale(1 1.04)" text-anchor="end">0</text>
<text transform="translate(1222.55 648.38) scale(1 1.04)" text-anchor="end">1</text>
<text transform="translate(1222.55 591.66) scale(1 1.04)" text-anchor="end">2</text>
<text transform="translate(1222.55 534.94) scale(1 1.04)" text-anchor="end">3</text>
<text transform="translate(1222.55 478.22) scale(1 1.04)" text-anchor="end">4</text>
<text transform="translate(1222.55 421.5) scale(1 1.04)" text-anchor="end">5</text>
<text transform="translate(1231.55 411.6) scale(1.19 1)" font-weight="normal" font-style="normal" font-size="27.5" stroke="#fff" stroke-width="0.3">×</text>
<text transform="translate(1250.2 408.4) scale(1 1.04)">10<tspan font-size="16.6" dy="-10.7" dx="-0.2">-6</tspan></text>
</g>
<text x="1468.2" y="398.7" text-anchor="middle" font-family='"Liberation Serif", serif' font-weight="bold" font-size="24.28" fill="#000">Emission reduction amounts</text>
<polyline points="1242.48,503.95 1254.37,542.52 1266.25,573.38 1278.13,598.06 1290.01,617.81 1301.89,633.61 1313.78,646.25 1325.66,656.36 1337.54,664.45 1349.42,670.92 1361.31,676.09 1373.19,680.23 1385.07,683.55 1396.95,686.2 1408.84,688.32 1420.72,690.01 1432.6,691.37 1444.48,692.46 1456.37,693.33 1468.25,694.02 1480.13,694.58 1492.01,695.02 1503.9,695.38 1515.78,695.66 1527.66,695.89 1539.55,696.07 1551.43,696.22 1563.31,696.33 1575.19,696.43 1587.08,696.5 1598.96,696.56 1610.84,696.61 1622.72,696.65 1634.61,696.68 1646.49,696.7 1658.37,696.72 1670.25,696.74 1682.14,696.75 1694.02,696.76 1705.9,696.77" fill="none" stroke="#111" stroke-width="1.05"/>
<polyline points="1242.48,455.74 1254.37,503.95 1266.25,542.52 1278.13,573.38 1290.01,598.06 1301.89,617.81 1313.78,633.61 1325.66,646.25 1337.54,656.36 1349.42,664.45 1361.31,670.92 1373.19,676.09 1385.07,680.23 1396.95,683.55 1408.84,686.2 1420.72,688.32 1432.6,690.01 1444.48,691.37 1456.37,692.46 1468.25,693.33 1480.13,694.02 1492.01,694.58 1503.9,695.02 1515.78,695.38 1527.66,695.66 1539.55,695.89 1551.43,696.07 1563.31,696.22 1575.19,696.33 1587.08,696.43 1598.96,696.5 1610.84,696.56 1622.72,696.61 1634.61,696.65 1646.49,696.68 1658.37,696.7 1670.25,696.72 1682.14,696.74 1694.02,696.75 1705.9,696.76" fill="none" stroke="#111" stroke-width="1.05"/>
<polyline points="1242.48,552.16 1254.37,581.09 1266.25,604.23 1278.13,622.75 1290.01,637.56 1301.89,649.41 1313.78,658.88 1325.66,666.47 1337.54,672.53 1349.42,677.39 1361.31,681.27 1373.19,684.38 1385.07,686.86 1396.95,688.85 1408.84,690.44 1420.72,691.71 1432.6,692.73 1444.48,693.54 1456.37,694.19 1468.25,694.72 1480.13,695.13 1492.01,695.47 1503.9,695.73 1515.78,695.95 1527.66,696.12 1539.55,696.25 1551.43,696.36 1563.31,696.45 1575.19,696.52 1587.08,696.58 1598.96,696.62 1610.84,696.66 1622.72,696.69 1634.61,696.71 1646.49,696.73 1658.37,696.74 1670.25,696.75 1682.14,696.76 1694.02,696.77 1705.9,696.78" fill="none" stroke="#ff0000" stroke-width="1.1" stroke-dasharray="8.8 6.4"/>
<g fill="none" stroke="#000" stroke-width="1.1">
<circle cx="1242.48" cy="503.95" r="3.8"/>
<circle cx="1254.37" cy="542.52" r="3.8"/>
<circle cx="1266.25" cy="573.38" r="3.8"/>
<circle cx="1278.13" cy="598.06" r="3.8"/>
<circle cx="1290.01" cy="617.81" r="3.8"/>
<circle cx="1301.89" cy="633.61" r="3.8"/>
<circle cx="1313.78" cy="646.25" r="3.8"/>
<circle cx="1325.66" cy="656.36" r="3.8"/>
<circle cx="1337.54" cy="664.45" r="3.8"/>
<circle cx="1349.42" cy="670.92" r="3.8"/>
<circle cx="1361.31" cy="676.09" r="3.8"/>
<circle cx="1373.19" cy="680.23" r="3.8"/>
<circle cx="1385.07" cy="683.55" r="3.8"/>
<circle cx="1396.95" cy="686.2" r="3.8"/>
<circle cx="1408.84" cy="688.32" r="3.8"/>
<circle cx="1420.72" cy="690.01" r="3.8"/>
<circle cx="1432.6" cy="691.37" r="3.8"/>
<circle cx="1444.48" cy="692.46" r="3.8"/>
<circle cx="1456.37" cy="693.33" r="3.8"/>
<circle cx="1468.25" cy="694.02" r="3.8"/>
<circle cx="1480.13" cy="694.58" r="3.8"/>
<circle cx="1492.01" cy="695.02" r="3.8"/>
<circle cx="1503.9" cy="695.38" r="3.8"/>
<circle cx="1515.78" cy="695.66" r="3.8"/>
<circle cx="1527.66" cy="695.89" r="3.8"/>
<circle cx="1539.55" cy="696.07" r="3.8"/>
<circle cx="1551.43" cy="696.22" r="3.8"/>
<circle cx="1563.31" cy="696.33" r="3.8"/>
<circle cx="1575.19" cy="696.43" r="3.8"/>
<circle cx="1587.08" cy="696.5" r="3.8"/>
<circle cx="1598.96" cy="696.56" r="3.8"/>
<circle cx="1610.84" cy="696.61" r="3.8"/>
<circle cx="1622.72" cy="696.65" r="3.8"/>
<circle cx="1634.61" cy="696.68" r="3.8"/>
<circle cx="1646.49" cy="696.7" r="3.8"/>
<circle cx="1658.37" cy="696.72" r="3.8"/>
<circle cx="1670.25" cy="696.74" r="3.8"/>
<circle cx="1682.14" cy="696.75" r="3.8"/>
<circle cx="1694.02" cy="696.76" r="3.8"/>
<circle cx="1705.9" cy="696.77" r="3.8"/>
<path d="M1239.18 452.44l6.6 6.6M1239.18 459.04l6.6 -6.6M1251.07 500.65l6.6 6.6M1251.07 507.25l6.6 -6.6M1262.95 539.22l6.6 6.6M1262.95 545.82l6.6 -6.6M1274.83 570.08l6.6 6.6M1274.83 576.68l6.6 -6.6M1286.71 594.76l6.6 6.6M1286.71 601.36l6.6 -6.6M1298.6 614.51l6.6 6.6M1298.6 621.11l6.6 -6.6M1310.48 630.31l6.6 6.6M1310.48 636.91l6.6 -6.6M1322.36 642.95l6.6 6.6M1322.36 649.55l6.6 -6.6M1334.24 653.06l6.6 6.6M1334.24 659.66l6.6 -6.6M1346.12 661.15l6.6 6.6M1346.12 667.75l6.6 -6.6M1358.01 667.62l6.6 6.6M1358.01 674.22l6.6 -6.6M1369.89 672.79l6.6 6.6M1369.89 679.39l6.6 -6.6M1381.77 676.93l6.6 6.6M1381.77 683.53l6.6 -6.6M1393.65 680.25l6.6 6.6M1393.65 686.85l6.6 -6.6M1405.54 682.9l6.6 6.6M1405.54 689.5l6.6 -6.6M1417.42 685.02l6.6 6.6M1417.42 691.62l6.6 -6.6M1429.3 686.71l6.6 6.6M1429.3 693.31l6.6 -6.6M1441.18 688.07l6.6 6.6M1441.18 694.67l6.6 -6.6M1453.07 689.16l6.6 6.6M1453.07 695.76l6.6 -6.6M1464.95 690.03l6.6 6.6M1464.95 696.63l6.6 -6.6M1476.83 690.72l6.6 6.6M1476.83 697.32l6.6 -6.6M1488.71 691.28l6.6 6.6M1488.71 697.88l6.6 -6.6M1500.6 691.72l6.6 6.6M1500.6 698.32l6.6 -6.6M1512.48 692.08l6.6 6.6M1512.48 698.68l6.6 -6.6M1524.36 692.36l6.6 6.6M1524.36 698.96l6.6 -6.6M1536.25 692.59l6.6 6.6M1536.25 699.19l6.6 -6.6M1548.13 692.77l6.6 6.6M1548.13 699.37l6.6 -6.6M1560.01 692.92l6.6 6.6M1560.01 699.52l6.6 -6.6M1571.89 693.03l6.6 6.6M1571.89 699.63l6.6 -6.6M1583.78 693.13l6.6 6.6M1583.78 699.73l6.6 -6.6M1595.66 693.2l6.6 6.6M1595.66 699.8l6.6 -6.6M1607.54 693.26l6.6 6.6M1607.54 699.86l6.6 -6.6M1619.42 693.31l6.6 6.6M1619.42 699.91l6.6 -6.6M1631.31 693.35l6.6 6.6M1631.31 699.95l6.6 -6.6M1643.19 693.38l6.6 6.6M1643.19 699.98l6.6 -6.6M1655.07 693.4l6.6 6.6M1655.07 700l6.6 -6.6M1666.95 693.42l6.6 6.6M1666.95 700.02l6.6 -6.6M1678.84 693.44l6.6 6.6M1678.84 700.04l6.6 -6.6M1690.72 693.45l6.6 6.6M1690.72 700.05l6.6 -6.6M1702.6 693.46l6.6 6.6M1702.6 700.06l6.6 -6.6"/>
</g>
<rect x="1513.3" y="432.35" width="173.3" height="79.05" fill="#fff" stroke="#262626" stroke-width="1.15"/>
<path d="M1518 447.32H1559.8M1518 472.25H1559.8" stroke="#111" stroke-width="1.05"/>
<path d="M1518 496.95H1559.8" stroke="#ff0000" stroke-width="1.1" stroke-dasharray="8.8 6.4"/>
<circle cx="1539.7" cy="447.32" r="3.8" fill="none" stroke="#000" stroke-width="1.1"/>
<path d="M1536.4 468.95l6.6 6.6M1536.4 475.55l6.6 -6.6" fill="none" stroke="#000" stroke-width="1.1"/>
<g font-family='"Liberation Serif", serif' font-weight="bold" font-style="italic" font-size="20.6" fill="#000">
<text x="1564.8" y="453.85">Initial</text>
<text x="1564.8" y="479.05">increase 25%</text>
<text x="1564.8" y="504.65">decrease 25%</text>
</g>
</g>
<g>
<rect x="31.3" y="790.5" width="468.4" height="287.7" fill="none" stroke="#262626" stroke-width="1.15"/>
<path d="M148.22 1078.2v-4.7M148.22 790.5v4.7M265.55 1078.2v-4.7M265.55 790.5v4.7M382.88 1078.2v-4.7M382.88 790.5v4.7M31.3 848.04h4.7M499.7 848.04h-4.7M31.3 905.58h4.7M499.7 905.58h-4.7M31.3 963.12h4.7M499.7 963.12h-4.7M31.3 1020.66h4.7M499.7 1020.66h-4.7" stroke="#262626" stroke-width="1.15" fill="none"/>
<g font-family='"Liberation Serif", serif' font-weight="bold" font-style="italic" font-size="22" fill="#0d0d0d" stroke="#0d0d0d" stroke-width="0.1">
<text transform="translate(31.4 1107.8) scale(1 1.04)" text-anchor="middle">0</text>
<text transform="translate(148.62 1107.8) scale(1 1.04)" text-anchor="middle">10</text>
<text transform="translate(265.85 1107.8) scale(1 1.04)" text-anchor="middle">20</text>
<text transform="translate(383.07 1107.8) scale(1 1.04)" text-anchor="middle">30</text>
<text transform="translate(500.3 1107.8) scale(1 1.04)" text-anchor="middle">40</text>
<text transform="translate(22.85 798.8) scale(1 1.04)" text-anchor="end">0</text>
<text transform="translate(22.85 856.34) scale(1 1.04)" text-anchor="end">-1</text>
<text transform="translate(22.85 913.88) scale(1 1.04)" text-anchor="end">-2</text>
<text transform="translate(22.85 971.42) scale(1 1.04)" text-anchor="end">-3</text>
<text transform="translate(22.85 1028.96) scale(1 1.04)" text-anchor="end">-4</text>
<text transform="translate(22.85 1086.5) scale(1 1.04)" text-anchor="end">-5</text>
<text transform="translate(31.85 788.9) scale(1.19 1)" font-weight="normal" font-style="normal" font-size="27.5" stroke="#fff" stroke-width="0.3">×</text>
<text transform="translate(50.5 785.7) scale(1 1.04)">10<tspan font-size="16.6" dy="-10.7" dx="-0.2">-6</tspan></text>
</g>
<text x="265.3" y="772.5" text-anchor="middle" font-family='"Liberation Serif", serif' font-weight="bold" font-size="24.2" fill="#000">Pollutant emission</text>
<polyline points="42.63,983.83 54.37,945.17 66.1,914.23 77.83,889.49 89.56,869.69 101.3,853.85 113.03,841.18 124.76,831.05 136.49,822.94 148.22,816.45 159.96,811.26 171.69,807.11 183.42,803.79 195.16,801.13 206.89,799 218.62,797.3 230.35,795.94 242.09,794.85 253.82,793.98 265.55,793.29 277.28,792.73 289.01,792.28 300.75,791.93 312.48,791.64 324.21,791.41 335.94,791.23 347.68,791.08 359.41,790.97 371.14,790.87 382.88,790.8 394.61,790.74 406.34,790.69 418.07,790.65 429.81,790.62 441.54,790.6 453.27,790.58 465,790.56 476.74,790.55 488.47,790.54 500.2,790.53" fill="none" stroke="#111" stroke-width="1.05"/>
<polyline points="42.63,1032.17 54.37,983.83 66.1,945.17 77.83,914.23 89.56,889.49 101.3,869.69 113.03,853.85 124.76,841.18 136.49,831.05 148.22,822.94 159.96,816.45 171.69,811.26 183.42,807.11 195.16,803.79 206.89,801.13 218.62,799 230.35,797.3 242.09,795.94 253.82,794.85 265.55,793.98 277.28,793.29 289.01,792.73 300.75,792.28 312.48,791.93 324.21,791.64 335.94,791.41 347.68,791.23 359.41,791.08 371.14,790.97 382.88,790.87 394.61,790.8 406.34,790.74 418.07,790.69 429.81,790.65 441.54,790.62 453.27,790.6 465,790.58 476.74,790.56 488.47,790.55 500.2,790.54" fill="none" stroke="#111" stroke-width="1.05"/>
<polyline points="42.63,935.5 54.37,906.5 66.1,883.3 77.83,864.74 89.56,849.89 101.3,838.01 113.03,828.51 124.76,820.91 136.49,814.83 148.22,809.96 159.96,806.07 171.69,802.96 183.42,800.46 195.16,798.47 206.89,796.88 218.62,795.6 230.35,794.58 242.09,793.77 253.82,793.11 265.55,792.59 277.28,792.17 289.01,791.84 300.75,791.57 312.48,791.36 324.21,791.18 335.94,791.05 347.68,790.94 359.41,790.85 371.14,790.78 382.88,790.72 394.61,790.68 406.34,790.64 418.07,790.61 429.81,790.59 441.54,790.57 453.27,790.56 465,790.55 476.74,790.54 488.47,790.53 500.2,790.52" fill="none" stroke="#ff0000" stroke-width="1.1" stroke-dasharray="8.8 6.4"/>
<g fill="none" stroke="#000" stroke-width="1.1">
<circle cx="42.63" cy="983.83" r="3.8"/>
<circle cx="54.37" cy="945.17" r="3.8"/>
<circle cx="66.1" cy="914.23" r="3.8"/>
<circle cx="77.83" cy="889.49" r="3.8"/>
<circle cx="89.56" cy="869.69" r="3.8"/>
<circle cx="101.3" cy="853.85" r="3.8"/>
<circle cx="113.03" cy="841.18" r="3.8"/>
<circle cx="124.76" cy="831.05" r="3.8"/>
<circle cx="136.49" cy="822.94" r="3.8"/>
<circle cx="148.22" cy="816.45" r="3.8"/>
<circle cx="159.96" cy="811.26" r="3.8"/>
<circle cx="171.69" cy="807.11" r="3.8"/>
<circle cx="183.42" cy="803.79" r="3.8"/>
<circle cx="195.16" cy="801.13" r="3.8"/>
<circle cx="206.89" cy="799" r="3.8"/>
<circle cx="218.62" cy="797.3" r="3.8"/>
<circle cx="230.35" cy="795.94" r="3.8"/>
<circle cx="242.09" cy="794.85" r="3.8"/>
<circle cx="253.82" cy="793.98" r="3.8"/>
<circle cx="265.55" cy="793.29" r="3.8"/>
<circle cx="277.28" cy="792.73" r="3.8"/>
<circle cx="289.01" cy="792.28" r="3.8"/>
<circle cx="300.75" cy="791.93" r="3.8"/>
<circle cx="312.48" cy="791.64" r="3.8"/>
<circle cx="324.21" cy="791.41" r="3.8"/>
<circle cx="335.94" cy="791.23" r="3.8"/>
<circle cx="347.68" cy="791.08" r="3.8"/>
<circle cx="359.41" cy="790.97" r="3.8"/>
<circle cx="371.14" cy="790.87" r="3.8"/>
<circle cx="382.88" cy="790.8" r="3.8"/>
<circle cx="394.61" cy="790.74" r="3.8"/>
<circle cx="406.34" cy="790.69" r="3.8"/>
<circle cx="418.07" cy="790.65" r="3.8"/>
<circle cx="429.81" cy="790.62" r="3.8"/>
<circle cx="441.54" cy="790.6" r="3.8"/>
<circle cx="453.27" cy="790.58" r="3.8"/>
<circle cx="465" cy="790.56" r="3.8"/>
<circle cx="476.74" cy="790.55" r="3.8"/>
<circle cx="488.47" cy="790.54" r="3.8"/>
<circle cx="500.2" cy="790.53" r="3.8"/>
<path d="M39.33 1028.87l6.6 6.6M39.33 1035.47l6.6 -6.6M51.07 980.53l6.6 6.6M51.07 987.13l6.6 -6.6M62.8 941.87l6.6 6.6M62.8 948.47l6.6 -6.6M74.53 910.93l6.6 6.6M74.53 917.53l6.6 -6.6M86.26 886.19l6.6 6.6M86.26 892.79l6.6 -6.6M98 866.39l6.6 6.6M98 872.99l6.6 -6.6M109.73 850.55l6.6 6.6M109.73 857.15l6.6 -6.6M121.46 837.88l6.6 6.6M121.46 844.48l6.6 -6.6M133.19 827.75l6.6 6.6M133.19 834.35l6.6 -6.6M144.92 819.64l6.6 6.6M144.92 826.24l6.6 -6.6M156.66 813.15l6.6 6.6M156.66 819.75l6.6 -6.6M168.39 807.96l6.6 6.6M168.39 814.56l6.6 -6.6M180.12 803.81l6.6 6.6M180.12 810.41l6.6 -6.6M191.85 800.49l6.6 6.6M191.85 807.09l6.6 -6.6M203.59 797.83l6.6 6.6M203.59 804.43l6.6 -6.6M215.32 795.7l6.6 6.6M215.32 802.3l6.6 -6.6M227.05 794l6.6 6.6M227.05 800.6l6.6 -6.6M238.78 792.64l6.6 6.6M238.78 799.24l6.6 -6.6M250.52 791.55l6.6 6.6M250.52 798.15l6.6 -6.6M262.25 790.68l6.6 6.6M262.25 797.28l6.6 -6.6M273.98 789.99l6.6 6.6M273.98 796.59l6.6 -6.6M285.71 789.43l6.6 6.6M285.71 796.03l6.6 -6.6M297.45 788.98l6.6 6.6M297.45 795.58l6.6 -6.6M309.18 788.63l6.6 6.6M309.18 795.23l6.6 -6.6M320.91 788.34l6.6 6.6M320.91 794.94l6.6 -6.6M332.64 788.11l6.6 6.6M332.64 794.71l6.6 -6.6M344.38 787.93l6.6 6.6M344.38 794.53l6.6 -6.6M356.11 787.78l6.6 6.6M356.11 794.38l6.6 -6.6M367.84 787.67l6.6 6.6M367.84 794.27l6.6 -6.6M379.57 787.57l6.6 6.6M379.57 794.17l6.6 -6.6M391.31 787.5l6.6 6.6M391.31 794.1l6.6 -6.6M403.04 787.44l6.6 6.6M403.04 794.04l6.6 -6.6M414.77 787.39l6.6 6.6M414.77 793.99l6.6 -6.6M426.5 787.35l6.6 6.6M426.5 793.95l6.6 -6.6M438.24 787.32l6.6 6.6M438.24 793.92l6.6 -6.6M449.97 787.3l6.6 6.6M449.97 793.9l6.6 -6.6M461.7 787.28l6.6 6.6M461.7 793.88l6.6 -6.6M473.44 787.26l6.6 6.6M473.44 793.86l6.6 -6.6M485.17 787.25l6.6 6.6M485.17 793.85l6.6 -6.6M496.9 787.24l6.6 6.6M496.9 793.84l6.6 -6.6"/>
</g>
<rect x="306.7" y="809.35" width="174.3" height="79.05" fill="#fff" stroke="#262626" stroke-width="1.15"/>
<path d="M312.4 824.05H354.2M312.4 849.25H354.2" stroke="#111" stroke-width="1.05"/>
<path d="M312.4 873.55H354.2" stroke="#ff0000" stroke-width="1.1" stroke-dasharray="8.8 6.4"/>
<circle cx="333.1" cy="824.05" r="3.8" fill="none" stroke="#000" stroke-width="1.1"/>
<path d="M329.8 845.95l6.6 6.6M329.8 852.55l6.6 -6.6" fill="none" stroke="#000" stroke-width="1.1"/>
<g font-family='"Liberation Serif", serif' font-weight="bold" font-style="italic" font-size="20.6" fill="#000">
<text x="359.2" y="830.85">Initial</text>
<text x="359.2" y="856.05">increase 25%</text>
<text x="359.2" y="881.65">decrease 25%</text>
</g>
</g>
<g>
<rect x="627" y="791.4" width="475.2" height="284" fill="none" stroke="#262626" stroke-width="1.15"/>
<path d="M745.62 1075.4v-4.7M745.62 791.4v4.7M864.65 1075.4v-4.7M864.65 791.4v4.7M983.67 1075.4v-4.7M983.67 791.4v4.7M627 886.07h4.7M1102.2 886.07h-4.7M627 980.73h4.7M1102.2 980.73h-4.7" stroke="#262626" stroke-width="1.15" fill="none"/>
<g font-family='"Liberation Serif", serif' font-weight="bold" font-style="italic" font-size="22" fill="#0d0d0d" stroke="#0d0d0d" stroke-width="0.1">
<text transform="translate(627.1 1105) scale(1 1.04)" text-anchor="middle">0</text>
<text transform="translate(746.02 1105) scale(1 1.04)" text-anchor="middle">10</text>
<text transform="translate(864.95 1105) scale(1 1.04)" text-anchor="middle">20</text>
<text transform="translate(983.88 1105) scale(1 1.04)" text-anchor="middle">30</text>
<text transform="translate(1102.8 1105) scale(1 1.04)" text-anchor="middle">40</text>
<text transform="translate(618.55 799.7) scale(1 1.04)" text-anchor="end">0</text>
<text transform="translate(618.55 894.37) scale(1 1.04)" text-anchor="end">-0.5</text>
<text transform="translate(618.55 989.03) scale(1 1.04)" text-anchor="end">-1</text>
<text transform="translate(618.55 1083.7) scale(1 1.04)" text-anchor="end">-1.5</text>
<text transform="translate(627.55 789.8) scale(1.19 1)" font-weight="normal" font-style="normal" font-size="27.5" stroke="#fff" stroke-width="0.3">×</text>
<text transform="translate(646.2 786.6) scale(1 1.04)">10<tspan font-size="16.6" dy="-10.7" dx="-0.2">-6</tspan></text>
</g>
<text x="864.5" y="777.5" text-anchor="middle" font-family='"Liberation Serif", serif' font-weight="bold" font-size="24.2" fill="#000">Damage compensation</text>
<polyline points="638.5,981.3 650.4,943.32 662.31,912.94 674.21,888.63 686.11,869.18 698.01,853.63 709.92,841.18 721.82,831.23 733.72,823.26 745.62,816.89 757.53,811.79 769.43,807.71 781.33,804.45 793.24,801.84 805.14,799.75 817.04,798.08 828.94,796.75 840.85,795.68 852.75,794.82 864.65,794.14 876.55,793.59 888.46,793.15 900.36,792.8 912.26,792.52 924.16,792.3 936.07,792.12 947.97,791.97 959.87,791.86 971.77,791.77 983.67,791.69 995.58,791.64 1007.48,791.59 1019.38,791.55 1031.29,791.52 1043.19,791.5 1055.09,791.48 1066.99,791.46 1078.89,791.45 1090.8,791.44 1102.7,791.43" fill="none" stroke="#111" stroke-width="1.05"/>
<polyline points="638.5,1028.78 650.4,981.3 662.31,943.32 674.21,912.94 686.11,888.63 698.01,869.18 709.92,853.63 721.82,841.18 733.72,831.23 745.62,823.26 757.53,816.89 769.43,811.79 781.33,807.71 793.24,804.45 805.14,801.84 817.04,799.75 828.94,798.08 840.85,796.75 852.75,795.68 864.65,794.82 876.55,794.14 888.46,793.59 900.36,793.15 912.26,792.8 924.16,792.52 936.07,792.3 947.97,792.12 959.87,791.97 971.77,791.86 983.67,791.77 995.58,791.69 1007.48,791.64 1019.38,791.59 1031.29,791.55 1043.19,791.52 1055.09,791.5 1066.99,791.48 1078.89,791.46 1090.8,791.45 1102.7,791.44" fill="none" stroke="#111" stroke-width="1.05"/>
<polyline points="638.5,933.83 650.4,905.34 662.31,882.55 674.21,864.32 686.11,849.74 698.01,838.07 709.92,828.74 721.82,821.27 733.72,815.3 745.62,810.52 757.53,806.69 769.43,803.63 781.33,801.19 793.24,799.23 805.14,797.66 817.04,796.41 828.94,795.41 840.85,794.61 852.75,793.97 864.65,793.45 876.55,793.04 888.46,792.71 900.36,792.45 912.26,792.24 924.16,792.07 936.07,791.94 947.97,791.83 959.87,791.74 971.77,791.68 983.67,791.62 995.58,791.58 1007.48,791.54 1019.38,791.51 1031.29,791.49 1043.19,791.47 1055.09,791.46 1066.99,791.45 1078.89,791.44 1090.8,791.43 1102.7,791.42" fill="none" stroke="#ff0000" stroke-width="1.1" stroke-dasharray="8.8 6.4"/>
<g fill="none" stroke="#000" stroke-width="1.1">
<circle cx="638.5" cy="981.3" r="3.8"/>
<circle cx="650.4" cy="943.32" r="3.8"/>
<circle cx="662.31" cy="912.94" r="3.8"/>
<circle cx="674.21" cy="888.63" r="3.8"/>
<circle cx="686.11" cy="869.18" r="3.8"/>
<circle cx="698.01" cy="853.63" r="3.8"/>
<circle cx="709.92" cy="841.18" r="3.8"/>
<circle cx="721.82" cy="831.23" r="3.8"/>
<circle cx="733.72" cy="823.26" r="3.8"/>
<circle cx="745.62" cy="816.89" r="3.8"/>
<circle cx="757.53" cy="811.79" r="3.8"/>
<circle cx="769.43" cy="807.71" r="3.8"/>
<circle cx="781.33" cy="804.45" r="3.8"/>
<circle cx="793.24" cy="801.84" r="3.8"/>
<circle cx="805.14" cy="799.75" r="3.8"/>
<circle cx="817.04" cy="798.08" r="3.8"/>
<circle cx="828.94" cy="796.75" r="3.8"/>
<circle cx="840.85" cy="795.68" r="3.8"/>
<circle cx="852.75" cy="794.82" r="3.8"/>
<circle cx="864.65" cy="794.14" r="3.8"/>
<circle cx="876.55" cy="793.59" r="3.8"/>
<circle cx="888.46" cy="793.15" r="3.8"/>
<circle cx="900.36" cy="792.8" r="3.8"/>
<circle cx="912.26" cy="792.52" r="3.8"/>
<circle cx="924.16" cy="792.3" r="3.8"/>
<circle cx="936.07" cy="792.12" r="3.8"/>
<circle cx="947.97" cy="791.97" r="3.8"/>
<circle cx="959.87" cy="791.86" r="3.8"/>
<circle cx="971.77" cy="791.77" r="3.8"/>
<circle cx="983.67" cy="791.69" r="3.8"/>
<circle cx="995.58" cy="791.64" r="3.8"/>
<circle cx="1007.48" cy="791.59" r="3.8"/>
<circle cx="1019.38" cy="791.55" r="3.8"/>
<circle cx="1031.29" cy="791.52" r="3.8"/>
<circle cx="1043.19" cy="791.5" r="3.8"/>
<circle cx="1055.09" cy="791.48" r="3.8"/>
<circle cx="1066.99" cy="791.46" r="3.8"/>
<circle cx="1078.89" cy="791.45" r="3.8"/>
<circle cx="1090.8" cy="791.44" r="3.8"/>
<circle cx="1102.7" cy="791.43" r="3.8"/>
<path d="M635.2 1025.48l6.6 6.6M635.2 1032.08l6.6 -6.6M647.11 978l6.6 6.6M647.11 984.6l6.6 -6.6M659.01 940.02l6.6 6.6M659.01 946.62l6.6 -6.6M670.91 909.64l6.6 6.6M670.91 916.24l6.6 -6.6M682.81 885.33l6.6 6.6M682.81 891.93l6.6 -6.6M694.72 865.88l6.6 6.6M694.72 872.48l6.6 -6.6M706.62 850.33l6.6 6.6M706.62 856.93l6.6 -6.6M718.52 837.88l6.6 6.6M718.52 844.48l6.6 -6.6M730.42 827.93l6.6 6.6M730.42 834.53l6.6 -6.6M742.33 819.96l6.6 6.6M742.33 826.56l6.6 -6.6M754.23 813.59l6.6 6.6M754.23 820.19l6.6 -6.6M766.13 808.49l6.6 6.6M766.13 815.09l6.6 -6.6M778.03 804.41l6.6 6.6M778.03 811.01l6.6 -6.6M789.94 801.15l6.6 6.6M789.94 807.75l6.6 -6.6M801.84 798.54l6.6 6.6M801.84 805.14l6.6 -6.6M813.74 796.45l6.6 6.6M813.74 803.05l6.6 -6.6M825.64 794.78l6.6 6.6M825.64 801.38l6.6 -6.6M837.55 793.45l6.6 6.6M837.55 800.05l6.6 -6.6M849.45 792.38l6.6 6.6M849.45 798.98l6.6 -6.6M861.35 791.52l6.6 6.6M861.35 798.12l6.6 -6.6M873.25 790.84l6.6 6.6M873.25 797.44l6.6 -6.6M885.16 790.29l6.6 6.6M885.16 796.89l6.6 -6.6M897.06 789.85l6.6 6.6M897.06 796.45l6.6 -6.6M908.96 789.5l6.6 6.6M908.96 796.1l6.6 -6.6M920.86 789.22l6.6 6.6M920.86 795.82l6.6 -6.6M932.77 789l6.6 6.6M932.77 795.6l6.6 -6.6M944.67 788.82l6.6 6.6M944.67 795.42l6.6 -6.6M956.57 788.67l6.6 6.6M956.57 795.27l6.6 -6.6M968.47 788.56l6.6 6.6M968.47 795.16l6.6 -6.6M980.38 788.47l6.6 6.6M980.38 795.07l6.6 -6.6M992.28 788.39l6.6 6.6M992.28 794.99l6.6 -6.6M1004.18 788.34l6.6 6.6M1004.18 794.94l6.6 -6.6M1016.08 788.29l6.6 6.6M1016.08 794.89l6.6 -6.6M1027.99 788.25l6.6 6.6M1027.99 794.85l6.6 -6.6M1039.89 788.22l6.6 6.6M1039.89 794.82l6.6 -6.6M1051.79 788.2l6.6 6.6M1051.79 794.8l6.6 -6.6M1063.69 788.18l6.6 6.6M1063.69 794.78l6.6 -6.6M1075.6 788.16l6.6 6.6M1075.6 794.76l6.6 -6.6M1087.5 788.15l6.6 6.6M1087.5 794.75l6.6 -6.6M1099.4 788.14l6.6 6.6M1099.4 794.74l6.6 -6.6"/>
</g>
<rect x="910.3" y="810.35" width="173.3" height="79.05" fill="#fff" stroke="#262626" stroke-width="1.15"/>
<path d="M915 825.05H956.8M915 850.25H956.8" stroke="#111" stroke-width="1.05"/>
<path d="M915 874.55H956.8" stroke="#ff0000" stroke-width="1.1" stroke-dasharray="8.8 6.4"/>
<circle cx="936.7" cy="825.05" r="3.8" fill="none" stroke="#000" stroke-width="1.1"/>
<path d="M933.4 846.95l6.6 6.6M933.4 853.55l6.6 -6.6" fill="none" stroke="#000" stroke-width="1.1"/>
<g font-family='"Liberation Serif", serif' font-weight="bold" font-style="italic" font-size="20.6" fill="#000">
<text x="961.8" y="831.85">Initial</text>
<text x="961.8" y="857.05">increase 25%</text>
<text x="961.8" y="882.65">decrease 25%</text>
</g>
</g>
<g>
<rect x="1231" y="790.5" width="475.5" height="283.3" fill="none" stroke="#262626" stroke-width="1.15"/>
<path d="M1349.7 1073.8v-4.7M1349.7 790.5v4.7M1468.8 1073.8v-4.7M1468.8 790.5v4.7M1587.9 1073.8v-4.7M1587.9 790.5v4.7M1231 1002.97h4.7M1706.5 1002.97h-4.7M1231 932.15h4.7M1706.5 932.15h-4.7M1231 861.33h4.7M1706.5 861.33h-4.7" stroke="#262626" stroke-width="1.15" fill="none"/>
<g font-family='"Liberation Serif", serif' font-weight="bold" font-style="italic" font-size="22" fill="#0d0d0d" stroke="#0d0d0d" stroke-width="0.1">
<text transform="translate(1231.1 1103.4) scale(1 1.04)" text-anchor="middle">0</text>
<text transform="translate(1350.1 1103.4) scale(1 1.04)" text-anchor="middle">10</text>
<text transform="translate(1469.1 1103.4) scale(1 1.04)" text-anchor="middle">20</text>
<text transform="translate(1588.1 1103.4) scale(1 1.04)" text-anchor="middle">30</text>
<text transform="translate(1707.1 1103.4) scale(1 1.04)" text-anchor="middle">40</text>
<text transform="translate(1222.55 1082.1) scale(1 1.04)" text-anchor="end">0</text>
<text transform="translate(1222.55 1011.27) scale(1 1.04)" text-anchor="end">1</text>
<text transform="translate(1222.55 940.45) scale(1 1.04)" text-anchor="end">2</text>
<text transform="translate(1222.55 869.62) scale(1 1.04)" text-anchor="end">3</text>
<text transform="translate(1222.55 798.8) scale(1 1.04)" text-anchor="end">4</text>
<text transform="translate(1231.55 788.9) scale(1.19 1)" font-weight="normal" font-style="normal" font-size="27.5" stroke="#fff" stroke-width="0.3">×</text>
<text transform="translate(1250.2 785.7) scale(1 1.04)">10<tspan font-size="16.6" dy="-10.7" dx="-0.2">-7</tspan></text>
</g>
<text x="1469.5" y="774.5" text-anchor="middle" font-family='"Liberation Serif", serif' font-weight="bold" font-size="24.35" fill="#000">Green development level</text>
<polyline points="1242.51,859.2 1254.42,902.12 1266.33,936.46 1278.24,963.92 1290.15,985.9 1302.06,1003.48 1313.97,1017.54 1325.88,1028.8 1337.79,1037.8 1349.7,1045 1361.61,1050.76 1373.52,1055.37 1385.43,1059.05 1397.34,1062 1409.25,1064.36 1421.16,1066.25 1433.07,1067.76 1444.98,1068.97 1456.89,1069.93 1468.8,1070.71 1480.71,1071.33 1492.62,1071.82 1504.53,1072.22 1516.44,1072.53 1528.35,1072.79 1540.26,1072.99 1552.17,1073.15 1564.08,1073.28 1575.99,1073.38 1587.9,1073.47 1599.81,1073.53 1611.72,1073.59 1623.63,1073.63 1635.54,1073.66 1647.45,1073.69 1659.36,1073.71 1671.27,1073.73 1683.18,1073.74 1695.09,1073.76 1707,1073.76" fill="none" stroke="#111" stroke-width="1.05"/>
<polyline points="1242.51,805.55 1254.42,859.2 1266.33,902.12 1278.24,936.46 1290.15,963.92 1302.06,985.9 1313.97,1003.48 1325.88,1017.54 1337.79,1028.8 1349.7,1037.8 1361.61,1045 1373.52,1050.76 1385.43,1055.37 1397.34,1059.05 1409.25,1062 1421.16,1064.36 1433.07,1066.25 1444.98,1067.76 1456.89,1068.97 1468.8,1069.93 1480.71,1070.71 1492.62,1071.33 1504.53,1071.82 1516.44,1072.22 1528.35,1072.53 1540.26,1072.79 1552.17,1072.99 1564.08,1073.15 1575.99,1073.28 1587.9,1073.38 1599.81,1073.47 1611.72,1073.53 1623.63,1073.59 1635.54,1073.63 1647.45,1073.66 1659.36,1073.69 1671.27,1073.71 1683.18,1073.73 1695.09,1073.74 1707,1073.76" fill="none" stroke="#111" stroke-width="1.05"/>
<polyline points="1242.51,912.85 1254.42,945.04 1266.33,970.79 1278.24,991.39 1290.15,1007.87 1302.06,1021.06 1313.97,1031.61 1325.88,1040.05 1337.79,1046.8 1349.7,1052.2 1361.61,1056.52 1373.52,1059.97 1385.43,1062.74 1397.34,1064.95 1409.25,1066.72 1421.16,1068.14 1433.07,1069.27 1444.98,1070.18 1456.89,1070.9 1468.8,1071.48 1480.71,1071.94 1492.62,1072.32 1504.53,1072.61 1516.44,1072.85 1528.35,1073.04 1540.26,1073.19 1552.17,1073.31 1564.08,1073.41 1575.99,1073.49 1587.9,1073.55 1599.81,1073.6 1611.72,1073.64 1623.63,1073.67 1635.54,1073.7 1647.45,1073.72 1659.36,1073.73 1671.27,1073.75 1683.18,1073.76 1695.09,1073.77 1707,1073.77" fill="none" stroke="#ff0000" stroke-width="1.1" stroke-dasharray="8.8 6.4"/>
<g fill="none" stroke="#000" stroke-width="1.1">
<circle cx="1242.51" cy="859.2" r="3.8"/>
<circle cx="1254.42" cy="902.12" r="3.8"/>
<circle cx="1266.33" cy="936.46" r="3.8"/>
<circle cx="1278.24" cy="963.92" r="3.8"/>
<circle cx="1290.15" cy="985.9" r="3.8"/>
<circle cx="1302.06" cy="1003.48" r="3.8"/>
<circle cx="1313.97" cy="1017.54" r="3.8"/>
<circle cx="1325.88" cy="1028.8" r="3.8"/>
<circle cx="1337.79" cy="1037.8" r="3.8"/>
<circle cx="1349.7" cy="1045" r="3.8"/>
<circle cx="1361.61" cy="1050.76" r="3.8"/>
<circle cx="1373.52" cy="1055.37" r="3.8"/>
<circle cx="1385.43" cy="1059.05" r="3.8"/>
<circle cx="1397.34" cy="1062" r="3.8"/>
<circle cx="1409.25" cy="1064.36" r="3.8"/>
<circle cx="1421.16" cy="1066.25" r="3.8"/>
<circle cx="1433.07" cy="1067.76" r="3.8"/>
<circle cx="1444.98" cy="1068.97" r="3.8"/>
<circle cx="1456.89" cy="1069.93" r="3.8"/>
<circle cx="1468.8" cy="1070.71" r="3.8"/>
<circle cx="1480.71" cy="1071.33" r="3.8"/>
<circle cx="1492.62" cy="1071.82" r="3.8"/>
<circle cx="1504.53" cy="1072.22" r="3.8"/>
<circle cx="1516.44" cy="1072.53" r="3.8"/>
<circle cx="1528.35" cy="1072.79" r="3.8"/>
<circle cx="1540.26" cy="1072.99" r="3.8"/>
<circle cx="1552.17" cy="1073.15" r="3.8"/>
<circle cx="1564.08" cy="1073.28" r="3.8"/>
<circle cx="1575.99" cy="1073.38" r="3.8"/>
<circle cx="1587.9" cy="1073.47" r="3.8"/>
<circle cx="1599.81" cy="1073.53" r="3.8"/>
<circle cx="1611.72" cy="1073.59" r="3.8"/>
<circle cx="1623.63" cy="1073.63" r="3.8"/>
<circle cx="1635.54" cy="1073.66" r="3.8"/>
<circle cx="1647.45" cy="1073.69" r="3.8"/>
<circle cx="1659.36" cy="1073.71" r="3.8"/>
<circle cx="1671.27" cy="1073.73" r="3.8"/>
<circle cx="1683.18" cy="1073.74" r="3.8"/>
<circle cx="1695.09" cy="1073.76" r="3.8"/>
<circle cx="1707" cy="1073.76" r="3.8"/>
<path d="M1239.21 802.25l6.6 6.6M1239.21 808.85l6.6 -6.6M1251.12 855.9l6.6 6.6M1251.12 862.5l6.6 -6.6M1263.03 898.82l6.6 6.6M1263.03 905.42l6.6 -6.6M1274.94 933.16l6.6 6.6M1274.94 939.76l6.6 -6.6M1286.85 960.62l6.6 6.6M1286.85 967.22l6.6 -6.6M1298.76 982.6l6.6 6.6M1298.76 989.2l6.6 -6.6M1310.67 1000.18l6.6 6.6M1310.67 1006.78l6.6 -6.6M1322.58 1014.24l6.6 6.6M1322.58 1020.84l6.6 -6.6M1334.49 1025.5l6.6 6.6M1334.49 1032.1l6.6 -6.6M1346.4 1034.5l6.6 6.6M1346.4 1041.1l6.6 -6.6M1358.31 1041.7l6.6 6.6M1358.31 1048.3l6.6 -6.6M1370.22 1047.46l6.6 6.6M1370.22 1054.06l6.6 -6.6M1382.13 1052.07l6.6 6.6M1382.13 1058.67l6.6 -6.6M1394.04 1055.75l6.6 6.6M1394.04 1062.35l6.6 -6.6M1405.95 1058.7l6.6 6.6M1405.95 1065.3l6.6 -6.6M1417.86 1061.06l6.6 6.6M1417.86 1067.66l6.6 -6.6M1429.77 1062.95l6.6 6.6M1429.77 1069.55l6.6 -6.6M1441.68 1064.46l6.6 6.6M1441.68 1071.06l6.6 -6.6M1453.59 1065.67l6.6 6.6M1453.59 1072.27l6.6 -6.6M1465.5 1066.63l6.6 6.6M1465.5 1073.23l6.6 -6.6M1477.41 1067.41l6.6 6.6M1477.41 1074.01l6.6 -6.6M1489.32 1068.03l6.6 6.6M1489.32 1074.63l6.6 -6.6M1501.23 1068.52l6.6 6.6M1501.23 1075.12l6.6 -6.6M1513.14 1068.92l6.6 6.6M1513.14 1075.52l6.6 -6.6M1525.05 1069.23l6.6 6.6M1525.05 1075.83l6.6 -6.6M1536.96 1069.49l6.6 6.6M1536.96 1076.09l6.6 -6.6M1548.87 1069.69l6.6 6.6M1548.87 1076.29l6.6 -6.6M1560.78 1069.85l6.6 6.6M1560.78 1076.45l6.6 -6.6M1572.69 1069.98l6.6 6.6M1572.69 1076.58l6.6 -6.6M1584.6 1070.08l6.6 6.6M1584.6 1076.68l6.6 -6.6M1596.51 1070.17l6.6 6.6M1596.51 1076.77l6.6 -6.6M1608.42 1070.23l6.6 6.6M1608.42 1076.83l6.6 -6.6M1620.33 1070.29l6.6 6.6M1620.33 1076.89l6.6 -6.6M1632.24 1070.33l6.6 6.6M1632.24 1076.93l6.6 -6.6M1644.15 1070.36l6.6 6.6M1644.15 1076.96l6.6 -6.6M1656.06 1070.39l6.6 6.6M1656.06 1076.99l6.6 -6.6M1667.97 1070.41l6.6 6.6M1667.97 1077.01l6.6 -6.6M1679.88 1070.43l6.6 6.6M1679.88 1077.03l6.6 -6.6M1691.79 1070.44l6.6 6.6M1691.79 1077.04l6.6 -6.6M1703.7 1070.46l6.6 6.6M1703.7 1077.06l6.6 -6.6"/>
</g>
<rect x="1514.3" y="809.35" width="173.3" height="79.05" fill="#fff" stroke="#262626" stroke-width="1.15"/>
<path d="M1519 824.05H1560.8M1519 849.25H1560.8" stroke="#111" stroke-width="1.05"/>
<path d="M1519 873.55H1560.8" stroke="#ff0000" stroke-width="1.1" stroke-dasharray="8.8 6.4"/>
<circle cx="1540.7" cy="824.05" r="3.8" fill="none" stroke="#000" stroke-width="1.1"/>
<path d="M1537.4 845.95l6.6 6.6M1537.4 852.55l6.6 -6.6" fill="none" stroke="#000" stroke-width="1.1"/>
<g font-family='"Liberation Serif", serif' font-weight="bold" font-style="italic" font-size="20.6" fill="#000">
<text x="1565.8" y="830.85">Initial</text>
<text x="1565.8" y="856.05">increase 25%</text>
<text x="1565.8" y="881.65">decrease 25%</text>
</g>
</g>
</svg></body></html>
